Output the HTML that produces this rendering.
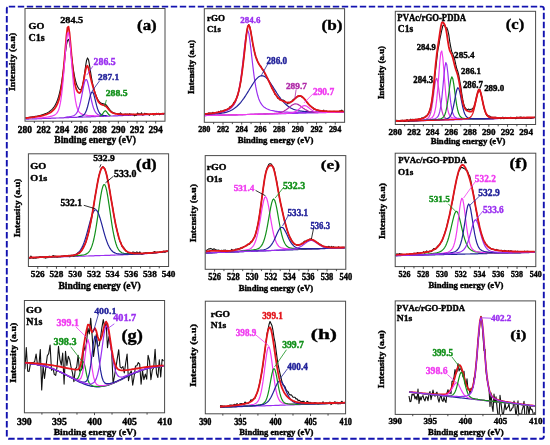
<!DOCTYPE html>
<html><head><meta charset="utf-8"><style>
html,body{margin:0;padding:0;background:#fff;width:550px;height:445px;overflow:hidden}
svg{display:block;filter:blur(0.4px)}
text{font-family:"Liberation Serif",serif;font-weight:bold;font-size:10px;font-kerning:none}
</style></head><body>
<svg width="550" height="445" viewBox="0 0 550 445">
<rect width="550" height="445" fill="#fff"/>
<clipPath id="cpa"><rect x="25" y="8.5" width="140" height="112.7"/></clipPath>
<g clip-path="url(#cpa)">
<polyline points="25.5,119.2 26.5,119.1 27.5,119.1 28.5,119.1 29.5,119.0 30.5,119.0 31.5,119.0 32.5,118.9 33.5,118.9 34.5,118.8 35.5,118.8 36.5,118.8 37.5,118.7 38.5,118.7 39.5,118.7 40.5,118.6 41.5,118.6 42.5,118.5 43.5,118.5 44.5,118.5 45.5,118.4 46.5,118.4 47.5,118.4 48.5,118.3 49.5,118.3 50.5,118.3 51.5,118.2 52.5,118.2 53.5,118.1 54.5,118.1 55.5,118.1 56.5,118.0 57.5,118.0 58.5,118.0 59.5,117.9 60.5,117.9 61.5,117.8 62.5,117.8 63.5,117.8 64.5,117.7 65.5,117.7 66.5,117.7 67.5,117.6 68.5,117.6 69.5,117.5 70.5,117.5 71.5,117.5 72.5,117.4 73.5,117.4 74.5,117.4 75.5,117.3 76.5,117.3 77.5,117.2 78.5,117.2 79.5,117.2 80.5,117.1 81.5,117.1 82.5,117.1 83.5,117.0 84.5,117.0 85.5,117.0 86.5,116.9 87.5,116.9 88.5,116.8 89.5,116.8 90.5,116.8 91.5,116.7 92.5,116.7 93.5,116.7 94.5,116.6 95.5,116.6 96.5,116.5 97.5,116.5 98.5,116.5 99.5,116.4 100.5,116.4 101.5,116.4 102.5,116.3 103.5,116.3 104.5,116.2 105.5,116.2 106.5,116.2 107.5,116.1 108.5,116.1 109.5,116.1 110.5,116.0 111.5,116.0 112.5,116.0 113.5,115.9 114.5,115.9 115.5,115.8 116.5,115.8 117.5,115.8 118.5,115.7 119.5,115.7 120.5,115.7 121.5,115.6 122.5,115.6 123.5,115.5 124.5,115.5 125.5,115.5 126.5,115.4 127.5,115.4 128.5,115.4 129.5,115.3 130.5,115.3 131.5,115.2 132.5,115.2 133.5,115.2 134.5,115.1 135.5,115.1 136.5,115.1 137.5,115.0 138.5,115.0 139.5,114.9 140.5,114.9 141.5,114.9 142.5,114.8 143.5,114.8 144.5,114.8 145.5,114.7 146.5,114.7 147.5,114.7 148.5,114.6 149.5,114.6 150.5,114.5 151.5,114.5 152.5,114.5 153.5,114.4 154.5,114.4 155.5,114.4 156.5,114.3 157.5,114.3 158.5,114.2 159.5,114.2 160.5,114.2 161.5,114.1 162.5,114.1 163.5,114.1 164.5,114.0" fill="none" stroke="#8a2be2" stroke-width="1.2" stroke-linejoin="round" />
<polyline points="25.5,117.7 26.5,117.6 27.5,117.5 28.5,117.4 29.5,117.2 30.5,117.1 31.5,117.0 32.5,116.8 33.5,116.7 34.5,116.5 35.5,116.3 36.5,116.2 37.5,116.0 38.5,115.8 39.5,115.5 40.5,115.3 41.5,115.0 42.5,114.7 43.5,114.4 44.5,114.0 45.5,113.6 46.5,113.2 47.5,112.7 48.5,112.1 49.5,111.4 50.5,110.7 51.5,109.8 52.5,108.8 53.5,107.7 54.5,106.3 55.5,104.6 56.5,102.5 57.5,100.0 58.5,96.9 59.5,93.1 60.5,88.5 61.5,83.0 62.5,76.4 63.5,68.9 64.5,60.6 65.5,52.3 66.5,45.0 67.5,40.3 68.5,39.3 69.5,42.3 70.5,48.2 71.5,55.8 72.5,63.5 73.5,70.4 74.5,76.2 75.5,80.7 76.5,84.1 77.5,86.5 78.5,88.3 79.5,89.5 80.5,89.8 81.5,88.6 82.5,85.6 83.5,80.6 84.5,74.0 85.5,66.7 86.5,60.6 87.5,57.9 88.5,59.7 89.5,65.0 90.5,71.6 91.5,77.8 92.5,83.1 93.5,87.3 94.5,90.9 95.5,94.1 96.5,96.8 97.5,99.0 98.5,100.7 99.5,101.9 100.5,102.7 101.5,103.3 102.5,103.6 103.5,103.9 104.5,104.1 105.5,104.5 106.5,105.3 107.5,106.6 108.5,108.0 109.5,109.4 110.5,110.6 111.5,111.5 112.5,112.2 113.5,112.8 114.5,113.1 115.5,113.4 116.5,113.5 117.5,113.7 118.5,113.8 119.5,113.9 120.5,112.9 121.5,114.0 122.5,114.8 123.5,114.6 124.5,114.3 125.5,114.0 126.5,114.4 127.5,114.1 128.5,114.7 129.5,113.7 130.5,114.3 131.5,114.2 132.5,114.6 133.5,114.4 134.5,115.8 135.5,115.1 136.5,115.1 137.5,113.0 138.5,114.0 139.5,113.8 140.5,114.5 141.5,112.8 142.5,114.9 143.5,114.8 144.5,113.3 145.5,113.5 146.5,113.6 147.5,114.1 148.5,114.4 149.5,115.2 150.5,113.9 151.5,114.4 152.5,114.0 153.5,115.0 154.5,114.4 155.5,114.7 156.5,113.2 157.5,113.7 158.5,113.3 159.5,114.7 160.5,114.1 161.5,113.5 162.5,113.4 163.5,114.0 164.5,113.2" fill="none" stroke="#111" stroke-width="1.1" stroke-linejoin="round" />
<polyline points="25.5,118.0 26.5,118.0 27.5,117.9 28.5,117.8 29.5,117.7 30.5,117.6 31.5,117.4 32.5,117.3 33.5,117.2 34.5,117.1 35.5,116.9 36.5,116.8 37.5,116.6 38.5,116.4 39.5,116.2 40.5,116.0 41.5,115.8 42.5,115.6 43.5,115.3 44.5,115.0 45.5,114.7 46.5,114.3 47.5,113.9 48.5,113.5 49.5,113.0 50.5,112.4 51.5,111.7 52.5,110.9 53.5,109.9 54.5,108.8 55.5,107.4 56.5,105.7 57.5,103.6 58.5,100.9 59.5,97.4 60.5,92.9 61.5,87.1 62.5,79.6 63.5,70.4 64.5,59.2 65.5,47.0 66.5,35.4 67.5,27.7 68.5,26.7 69.5,32.9 70.5,43.6 71.5,55.4 72.5,66.2 73.5,75.0 74.5,81.7 75.5,86.5 76.5,89.7 77.5,91.7 78.5,92.7 79.5,93.0 80.5,92.2 81.5,90.2 82.5,86.6 83.5,81.7 84.5,75.9 85.5,70.3 86.5,66.5 87.5,65.8 88.5,68.2 89.5,72.5 90.5,77.2 91.5,81.4 92.5,85.1 93.5,88.5 94.5,91.7 95.5,94.9 96.5,97.7 97.5,100.0 98.5,101.8 99.5,103.0 100.5,103.9 101.5,104.5 102.5,104.9 103.5,105.2 104.5,105.5 105.5,106.0 106.5,106.8 107.5,107.9 108.5,109.2 109.5,110.4 110.5,111.4 111.5,112.2 112.5,112.8 113.5,113.2 114.5,113.5 115.5,113.8 116.5,113.9 117.5,114.0 118.5,114.1 119.5,114.2 120.5,114.2 121.5,114.3 122.5,114.3 123.5,114.3 124.5,114.4 125.5,114.4 126.5,114.4 127.5,114.4 128.5,114.4 129.5,114.4 130.5,114.4 131.5,114.4 132.5,114.4 133.5,114.4 134.5,114.4 135.5,114.4 136.5,114.4 137.5,114.4 138.5,114.3 139.5,114.3 140.5,114.3 141.5,114.3 142.5,114.3 143.5,114.3 144.5,114.2 145.5,114.2 146.5,114.2 147.5,114.2 148.5,114.1 149.5,114.1 150.5,114.1 151.5,114.1 152.5,114.0 153.5,114.0 154.5,114.0 155.5,114.0 156.5,113.9 157.5,113.9 158.5,113.9 159.5,113.9 160.5,113.8 161.5,113.8 162.5,113.8 163.5,113.7 164.5,113.7" fill="none" stroke="#e3141b" stroke-width="1.8" stroke-linejoin="round" />
<polyline points="36.5,118.2 37.5,118.1 38.5,118.0 39.5,117.9 40.5,117.8 41.5,117.8 42.5,117.7 43.5,117.5 44.5,117.4 45.5,117.3 46.5,117.2 47.5,117.0 48.5,116.8 49.5,116.6 50.5,116.4 51.5,116.2 52.5,115.9 53.5,115.5 54.5,115.1 55.5,114.4 56.5,113.6 57.5,112.2 58.5,110.2 59.5,107.1 60.5,102.4 61.5,95.8 62.5,87.1 63.5,76.2 64.5,63.8 65.5,51.2 66.5,40.2 67.5,33.3 68.5,32.6 69.5,38.3 70.5,48.6 71.5,61.0 72.5,73.5 73.5,84.7 74.5,93.8 75.5,100.7 76.5,105.6 77.5,109.0 78.5,111.1 79.5,112.5 80.5,113.4 81.5,113.9 82.5,114.4 83.5,114.7 84.5,114.9 85.5,115.1 86.5,115.2 87.5,115.4 88.5,115.5 89.5,115.5 90.5,115.6 91.5,115.7 92.5,115.7 93.5,115.7 94.5,115.8 95.5,115.8 96.5,115.8 97.5,115.8 98.5,115.8 99.5,115.8 100.5,115.8" fill="none" stroke="#f03cf0" stroke-width="1.2" stroke-linejoin="round" />
<polyline points="65.5,117.1 66.5,117.0 67.5,116.9 68.5,116.8 69.5,116.7 70.5,116.5 71.5,116.3 72.5,116.0 73.5,115.7 74.5,115.2 75.5,114.4 76.5,113.3 77.5,111.6 78.5,109.2 79.5,105.9 80.5,101.9 81.5,97.1 82.5,91.8 83.5,86.7 84.5,82.4 85.5,79.8 86.5,79.5 87.5,81.6 88.5,85.6 89.5,90.5 90.5,95.7 91.5,100.5 92.5,104.7 93.5,108.0 94.5,110.5 95.5,112.3 96.5,113.4 97.5,114.2 98.5,114.7 99.5,115.0 100.5,115.2 101.5,115.3 102.5,115.4 103.5,115.5 104.5,115.5 105.5,115.5 106.5,115.6 107.5,115.6" fill="none" stroke="#9b30f0" stroke-width="1.2" stroke-linejoin="round" />
<polyline points="78.5,116.6 79.5,116.5 80.5,116.3 81.5,116.1 82.5,115.7 83.5,115.1 84.5,114.1 85.5,112.5 86.5,110.2 87.5,107.0 88.5,103.1 89.5,98.9 90.5,95.0 91.5,92.3 92.5,91.8 93.5,93.6 94.5,97.1 95.5,101.2 96.5,105.2 97.5,108.6 98.5,111.2 99.5,113.0 100.5,114.1 101.5,114.8 102.5,115.2 103.5,115.4 104.5,115.5 105.5,115.6 106.5,115.6" fill="none" stroke="#22229a" stroke-width="1.2" stroke-linejoin="round" />
<polyline points="99.5,116.1 100.5,115.7 101.5,115.1 102.5,114.0 103.5,112.5 104.5,111.2 105.5,110.7 106.5,111.6 107.5,113.0 108.5,114.2 109.5,115.1 110.5,115.5" fill="none" stroke="#12901a" stroke-width="1.2" stroke-linejoin="round" />
</g>
<rect x="25" y="8.5" width="140" height="112.7" fill="none" stroke="#4a4a4a" stroke-width="1"/>
<line x1="34.33" y1="121.2" x2="34.33" y2="123.0" stroke="#333" stroke-width="0.9"/>
<line x1="43.67" y1="121.2" x2="43.67" y2="123.5" stroke="#333" stroke-width="0.9"/>
<line x1="53.00" y1="121.2" x2="53.00" y2="123.0" stroke="#333" stroke-width="0.9"/>
<line x1="62.33" y1="121.2" x2="62.33" y2="123.5" stroke="#333" stroke-width="0.9"/>
<line x1="71.67" y1="121.2" x2="71.67" y2="123.0" stroke="#333" stroke-width="0.9"/>
<line x1="81.00" y1="121.2" x2="81.00" y2="123.5" stroke="#333" stroke-width="0.9"/>
<line x1="90.33" y1="121.2" x2="90.33" y2="123.0" stroke="#333" stroke-width="0.9"/>
<line x1="99.67" y1="121.2" x2="99.67" y2="123.5" stroke="#333" stroke-width="0.9"/>
<line x1="109.00" y1="121.2" x2="109.00" y2="123.0" stroke="#333" stroke-width="0.9"/>
<line x1="118.33" y1="121.2" x2="118.33" y2="123.5" stroke="#333" stroke-width="0.9"/>
<line x1="127.67" y1="121.2" x2="127.67" y2="123.0" stroke="#333" stroke-width="0.9"/>
<line x1="137.00" y1="121.2" x2="137.00" y2="123.5" stroke="#333" stroke-width="0.9"/>
<line x1="146.33" y1="121.2" x2="146.33" y2="123.0" stroke="#333" stroke-width="0.9"/>
<line x1="155.67" y1="121.2" x2="155.67" y2="123.5" stroke="#333" stroke-width="0.9"/>
<text transform="matrix(0.94842 0 0 0.94842 17.87 132.51)" fill="#000" stroke="#000" stroke-width="0.4218">280</text>
<text transform="matrix(0.94842 0 0 0.94842 36.56 132.51)" fill="#000" stroke="#000" stroke-width="0.4218">282</text>
<text transform="matrix(0.94842 0 0 0.94842 55.11 132.51)" fill="#000" stroke="#000" stroke-width="0.4218">284</text>
<text transform="matrix(0.94842 0 0 0.94842 73.83 132.51)" fill="#000" stroke="#000" stroke-width="0.4218">286</text>
<text transform="matrix(0.94842 0 0 0.94842 92.51 132.51)" fill="#000" stroke="#000" stroke-width="0.4218">288</text>
<text transform="matrix(0.94842 0 0 0.94842 111.20 132.51)" fill="#000" stroke="#000" stroke-width="0.4218">290</text>
<text transform="matrix(0.95256 0 0 0.95256 129.86 132.51)" fill="#000" stroke="#000" stroke-width="0.4199">292</text>
<text transform="matrix(0.95256 0 0 0.95256 148.41 132.51)" fill="#000" stroke="#000" stroke-width="0.4199">294</text>
<text transform="matrix(1.01508 0 0 0.87814 28.50 29.21)" fill="#000" stroke="#000" stroke-width="0.4226">GO</text>
<text transform="matrix(1.00775 0 0 0.98233 28.51 40.90)" fill="#000" stroke="#000" stroke-width="0.4020">C1s</text>
<text transform="matrix(1.02699 0 0 0.88339 60.17 22.77)" fill="#000" stroke="#000" stroke-width="0.4188">284.5</text>
<text transform="matrix(1.68812 0 0 1.54400 137.06 29.71)" fill="#000" stroke="#000" stroke-width="0.2475">(a)</text>
<text transform="matrix(0.98094 0 0 0.94229 93.59 64.67)" fill="#9b30f0" stroke="#9b30f0" stroke-width="0.4160">286.5</text>
<text transform="matrix(0.94145 0 0 0.91284 98.00 79.67)" fill="#22229a" stroke="#22229a" stroke-width="0.4314">287.1</text>
<text transform="matrix(0.97173 0 0 0.92756 105.69 96.17)" fill="#12901a" stroke="#12901a" stroke-width="0.4212">288.5</text>
<text transform="matrix(0.94734 0 0 0.92942 54.34 143.45)" fill="#000" stroke="#000" stroke-width="0.4263">Binding energy (eV)</text>
<text transform="matrix(0 -0.97250 0.78050 0 14.52 91.03)" fill="#000" stroke="#000" stroke-width="0.4564">Intensity (a.u)</text>
<line x1="92.9" y1="66.1" x2="86.8" y2="75.1" stroke="#9b30f0" stroke-width="0.8"/>
<line x1="99.6" y1="80.8" x2="92.2" y2="90.9" stroke="#22229a" stroke-width="0.8"/>
<line x1="106.4" y1="99.9" x2="104.6" y2="106.6" stroke="#12901a" stroke-width="0.8"/>
<clipPath id="cpb"><rect x="204.3" y="8.7" width="140.3" height="113.6"/></clipPath>
<g clip-path="url(#cpb)">
<polyline points="204.8,115.6 205.8,115.6 206.8,115.5 207.8,115.5 208.8,115.5 209.8,115.5 210.8,115.4 211.8,115.4 212.8,115.4 213.8,115.4 214.8,115.3 215.8,115.3 216.8,115.3 217.8,115.3 218.8,115.2 219.8,115.2 220.8,115.2 221.8,115.2 222.8,115.1 223.8,115.1 224.8,115.1 225.8,115.1 226.8,115.0 227.8,115.0 228.8,115.0 229.8,115.0 230.8,114.9 231.8,114.9 232.8,114.9 233.8,114.9 234.8,114.8 235.8,114.8 236.8,114.8 237.8,114.8 238.8,114.7 239.8,114.7 240.8,114.7 241.8,114.7 242.8,114.6 243.8,114.6 244.8,114.6 245.8,114.6 246.8,114.5 247.8,114.5 248.8,114.5 249.8,114.5 250.8,114.4 251.8,114.4 252.8,114.4 253.8,114.4 254.8,114.3 255.8,114.3 256.8,114.3 257.8,114.3 258.8,114.2 259.8,114.2 260.8,114.2 261.8,114.2 262.8,114.1 263.8,114.1 264.8,114.1 265.8,114.1 266.8,114.0 267.8,114.0 268.8,114.0 269.8,114.0 270.8,113.9 271.8,113.9 272.8,113.9 273.8,113.9 274.8,113.8 275.8,113.8 276.8,113.8 277.8,113.8 278.8,113.7 279.8,113.7 280.8,113.7 281.8,113.7 282.8,113.6 283.8,113.6 284.8,113.6 285.8,113.6 286.8,113.5 287.8,113.5 288.8,113.5 289.8,113.5 290.8,113.4 291.8,113.4 292.8,113.4 293.8,113.4 294.8,113.3 295.8,113.3 296.8,113.3 297.8,113.3 298.8,113.2 299.8,113.2 300.8,113.2 301.8,113.2 302.8,113.1 303.8,113.1 304.8,113.1 305.8,113.1 306.8,113.0 307.8,113.0 308.8,113.0 309.8,113.0 310.8,112.9 311.8,112.9 312.8,112.9 313.8,112.9 314.8,112.8 315.8,112.8 316.8,112.8 317.8,112.8 318.8,112.7 319.8,112.7 320.8,112.7 321.8,112.7 322.8,112.6 323.8,112.6 324.8,112.6 325.8,112.6 326.8,112.5 327.8,112.5 328.8,112.5 329.8,112.5 330.8,112.4 331.8,112.4 332.8,112.4 333.8,112.4 334.8,112.3 335.8,112.3 336.8,112.3 337.8,112.3 338.8,112.2 339.8,112.2 340.8,112.2 341.8,112.2 342.8,112.1 343.8,112.1" fill="none" stroke="#9b30f0" stroke-width="1.2" stroke-linejoin="round" />
<polyline points="204.8,113.7 205.8,113.8 206.8,114.7 207.8,114.0 208.8,112.8 209.8,113.5 210.8,113.1 211.8,113.3 212.8,112.3 213.8,113.1 214.8,113.0 215.8,113.5 216.8,112.7 217.8,112.6 218.8,111.4 219.8,113.0 220.8,110.7 221.8,112.0 222.8,110.9 223.8,110.3 224.8,110.1 225.8,109.7 226.8,109.8 227.8,109.0 228.8,109.2 229.8,106.8 230.8,106.9 231.8,105.6 232.8,105.3 233.8,102.5 234.8,101.8 235.8,100.1 236.8,96.8 237.8,95.1 238.8,91.0 239.8,86.9 240.8,81.4 241.8,73.9 242.8,66.3 243.8,58.0 244.8,49.2 245.8,40.0 246.8,31.3 247.8,26.2 248.8,24.6 249.8,26.9 250.8,31.7 251.8,37.5 252.8,44.5 253.8,48.5 254.8,53.0 255.8,57.0 256.8,59.1 257.8,61.7 258.8,63.7 259.8,65.7 260.8,66.1 261.8,68.8 262.8,69.5 263.8,71.4 264.8,73.4 265.8,75.2 266.8,77.4 267.8,79.0 268.8,81.1 269.8,83.4 270.8,84.9 271.8,88.1 272.8,89.1 273.8,90.8 274.8,94.2 275.8,94.8 276.8,95.7 277.8,98.4 278.8,98.3 279.8,99.9 280.8,99.5 281.8,100.4 282.8,100.1 283.8,100.4 284.8,101.2 285.8,102.1 286.8,102.8 287.8,103.9 288.8,102.2 289.8,103.0 290.8,101.8 291.8,101.4 292.8,100.0 293.8,99.1 294.8,98.5 295.8,97.4 296.8,97.1 297.8,96.0 298.8,96.6 299.8,95.9 300.8,96.0 301.8,97.0 302.8,97.5 303.8,98.2 304.8,99.4 305.8,100.6 306.8,102.4 307.8,103.5 308.8,104.5 309.8,105.8 310.8,106.1 311.8,107.4 312.8,107.2 313.8,109.3 314.8,109.2 315.8,109.7 316.8,110.2 317.8,110.2 318.8,110.3 319.8,111.2 320.8,110.9 321.8,110.5 322.8,111.2 323.8,110.2 324.8,112.0 325.8,111.1 326.8,111.3 327.8,112.4 328.8,112.4 329.8,111.4 330.8,111.7 331.8,111.9 332.8,112.2 333.8,111.3 334.8,111.5 335.8,112.0 336.8,111.6 337.8,111.8 338.8,111.7 339.8,110.9 340.8,111.0 341.8,110.1 342.8,111.3 343.8,112.1" fill="none" stroke="#111" stroke-width="1.1" stroke-linejoin="round" />
<polyline points="204.8,114.5 205.8,114.4 206.8,114.3 207.8,114.2 208.8,114.1 209.8,114.0 210.8,113.9 211.8,113.8 212.8,113.7 213.8,113.6 214.8,113.4 215.8,113.3 216.8,113.1 217.8,113.0 218.8,112.8 219.8,112.6 220.8,112.4 221.8,112.1 222.8,111.9 223.8,111.6 224.8,111.3 225.8,110.9 226.8,110.5 227.8,110.1 228.8,109.5 229.8,108.9 230.8,108.2 231.8,107.3 232.8,106.2 233.8,104.9 234.8,103.2 235.8,101.0 236.8,98.3 237.8,94.8 238.8,90.4 239.8,85.0 240.8,78.6 241.8,71.1 242.8,62.6 243.8,53.6 244.8,44.6 245.8,36.9 246.8,31.9 247.8,30.6 248.8,33.4 249.8,39.7 250.8,48.0 251.8,57.0 252.8,65.8 253.8,73.9 254.8,81.0 255.8,86.9 256.8,91.8 257.8,95.8 258.8,98.9 259.8,101.3 260.8,103.2 261.8,104.7 262.8,105.9 263.8,106.9 264.8,107.6 265.8,108.3 266.8,108.8 267.8,109.2 268.8,109.6 269.8,110.0 270.8,110.3 271.8,110.5 272.8,110.7 273.8,110.9 274.8,111.1 275.8,111.3 276.8,111.4 277.8,111.5 278.8,111.6 279.8,111.7 280.8,111.8 281.8,111.9 282.8,112.0 283.8,112.0 284.8,112.1 285.8,112.2 286.8,112.2 287.8,112.2 288.8,112.3 289.8,112.3 290.8,112.3 291.8,112.4 292.8,112.4 293.8,112.4 294.8,112.4 295.8,112.4 296.8,112.4 297.8,112.4 298.8,112.4 299.8,112.5 300.8,112.5 301.8,112.5 302.8,112.5 303.8,112.5 304.8,112.5 305.8,112.4 306.8,112.4 307.8,112.4 308.8,112.4 309.8,112.4 310.8,112.4 311.8,112.4 312.8,112.4 313.8,112.4 314.8,112.4 315.8,112.4 316.8,112.4 317.8,112.3 318.8,112.3 319.8,112.3 320.8,112.3 321.8,112.3 322.8,112.3 323.8,112.3 324.8,112.2 325.8,112.2 326.8,112.2 327.8,112.2 328.8,112.2 329.8,112.2 330.8,112.1 331.8,112.1 332.8,112.1 333.8,112.1 334.8,112.1 335.8,112.0 336.8,112.0 337.8,112.0 338.8,112.0 339.8,112.0 340.8,112.0 341.8,111.9 342.8,111.9 343.8,111.9" fill="none" stroke="#9b30f0" stroke-width="1.2" stroke-linejoin="round" />
<polyline points="204.8,114.7 205.8,114.7 206.8,114.6 207.8,114.6 208.8,114.5 209.8,114.4 210.8,114.4 211.8,114.3 212.8,114.2 213.8,114.2 214.8,114.1 215.8,114.0 216.8,113.9 217.8,113.8 218.8,113.7 219.8,113.5 220.8,113.4 221.8,113.2 222.8,113.0 223.8,112.8 224.8,112.6 225.8,112.4 226.8,112.1 227.8,111.7 228.8,111.4 229.8,111.0 230.8,110.5 231.8,110.0 232.8,109.4 233.8,108.8 234.8,108.1 235.8,107.3 236.8,106.5 237.8,105.5 238.8,104.5 239.8,103.5 240.8,102.3 241.8,101.0 242.8,99.7 243.8,98.3 244.8,96.8 245.8,95.3 246.8,93.7 247.8,92.1 248.8,90.5 249.8,88.8 250.8,87.2 251.8,85.6 252.8,84.0 253.8,82.5 254.8,81.0 255.8,79.7 256.8,78.6 257.8,77.6 258.8,76.8 259.8,76.2 260.8,75.8 261.8,75.7 262.8,75.8 263.8,76.1 264.8,76.6 265.8,77.4 266.8,78.3 267.8,79.4 268.8,80.7 269.8,82.1 270.8,83.5 271.8,85.1 272.8,86.6 273.8,88.2 274.8,89.8 275.8,91.4 276.8,93.0 277.8,94.5 278.8,96.0 279.8,97.4 280.8,98.8 281.8,100.0 282.8,101.2 283.8,102.4 284.8,103.4 285.8,104.3 286.8,105.2 287.8,106.0 288.8,106.7 289.8,107.4 290.8,108.0 291.8,108.5 292.8,109.0 293.8,109.4 294.8,109.7 295.8,110.0 296.8,110.3 297.8,110.6 298.8,110.8 299.8,110.9 300.8,111.1 301.8,111.2 302.8,111.3 303.8,111.4 304.8,111.5 305.8,111.6 306.8,111.6 307.8,111.7 308.8,111.7 309.8,111.8 310.8,111.8 311.8,111.8 312.8,111.8 313.8,111.9 314.8,111.9 315.8,111.9 316.8,111.9 317.8,111.9 318.8,111.9 319.8,111.9 320.8,111.9 321.8,111.9 322.8,111.9 323.8,111.9 324.8,111.9 325.8,111.9 326.8,111.9 327.8,111.9 328.8,111.9 329.8,111.9 330.8,111.9 331.8,111.8 332.8,111.8 333.8,111.8 334.8,111.8 335.8,111.8 336.8,111.8 337.8,111.8 338.8,111.8 339.8,111.8 340.8,111.7 341.8,111.7 342.8,111.7 343.8,111.7" fill="none" stroke="#22229a" stroke-width="1.2" stroke-linejoin="round" />
<polyline points="204.8,115.6 205.8,115.5 206.8,115.5 207.8,115.5 208.8,115.5 209.8,115.4 210.8,115.4 211.8,115.4 212.8,115.4 213.8,115.3 214.8,115.3 215.8,115.3 216.8,115.3 217.8,115.2 218.8,115.2 219.8,115.2 220.8,115.2 221.8,115.1 222.8,115.1 223.8,115.1 224.8,115.1 225.8,115.0 226.8,115.0 227.8,115.0 228.8,114.9 229.8,114.9 230.8,114.9 231.8,114.9 232.8,114.8 233.8,114.8 234.8,114.8 235.8,114.8 236.8,114.7 237.8,114.7 238.8,114.7 239.8,114.7 240.8,114.6 241.8,114.6 242.8,114.6 243.8,114.5 244.8,114.5 245.8,114.5 246.8,114.5 247.8,114.4 248.8,114.4 249.8,114.4 250.8,114.4 251.8,114.3 252.8,114.3 253.8,114.3 254.8,114.2 255.8,114.2 256.8,114.2 257.8,114.1 258.8,114.1 259.8,114.1 260.8,114.0 261.8,114.0 262.8,114.0 263.8,113.9 264.8,113.9 265.8,113.9 266.8,113.8 267.8,113.8 268.8,113.8 269.8,113.7 270.8,113.7 271.8,113.6 272.8,113.6 273.8,113.5 274.8,113.4 275.8,113.3 276.8,113.2 277.8,113.1 278.8,112.9 279.8,112.7 280.8,112.4 281.8,112.1 282.8,111.7 283.8,111.2 284.8,110.6 285.8,110.0 286.8,109.3 287.8,108.5 288.8,107.7 289.8,106.9 290.8,106.1 291.8,105.3 292.8,104.7 293.8,104.2 294.8,103.9 295.8,103.8 296.8,104.0 297.8,104.4 298.8,104.9 299.8,105.6 300.8,106.3 301.8,107.1 302.8,107.9 303.8,108.6 304.8,109.3 305.8,109.9 306.8,110.4 307.8,110.9 308.8,111.3 309.8,111.6 310.8,111.8 311.8,112.0 312.8,112.1 313.8,112.2 314.8,112.3 315.8,112.4 316.8,112.4 317.8,112.4 318.8,112.4 319.8,112.4 320.8,112.4 321.8,112.4 322.8,112.4 323.8,112.4 324.8,112.4 325.8,112.4 326.8,112.4 327.8,112.4 328.8,112.3 329.8,112.3 330.8,112.3 331.8,112.3 332.8,112.3 333.8,112.3 334.8,112.2 335.8,112.2 336.8,112.2 337.8,112.2 338.8,112.2 339.8,112.1 340.8,112.1 341.8,112.1 342.8,112.1 343.8,112.0" fill="none" stroke="#b02aa8" stroke-width="1.2" stroke-linejoin="round" />
<polyline points="204.8,115.6 205.8,115.6 206.8,115.5 207.8,115.5 208.8,115.5 209.8,115.5 210.8,115.4 211.8,115.4 212.8,115.4 213.8,115.4 214.8,115.3 215.8,115.3 216.8,115.3 217.8,115.3 218.8,115.2 219.8,115.2 220.8,115.2 221.8,115.2 222.8,115.1 223.8,115.1 224.8,115.1 225.8,115.1 226.8,115.0 227.8,115.0 228.8,115.0 229.8,114.9 230.8,114.9 231.8,114.9 232.8,114.9 233.8,114.8 234.8,114.8 235.8,114.8 236.8,114.8 237.8,114.7 238.8,114.7 239.8,114.7 240.8,114.7 241.8,114.6 242.8,114.6 243.8,114.6 244.8,114.6 245.8,114.5 246.8,114.5 247.8,114.5 248.8,114.5 249.8,114.4 250.8,114.4 251.8,114.4 252.8,114.4 253.8,114.3 254.8,114.3 255.8,114.3 256.8,114.3 257.8,114.2 258.8,114.2 259.8,114.2 260.8,114.1 261.8,114.1 262.8,114.1 263.8,114.1 264.8,114.0 265.8,114.0 266.8,114.0 267.8,114.0 268.8,113.9 269.8,113.9 270.8,113.9 271.8,113.8 272.8,113.8 273.8,113.8 274.8,113.8 275.8,113.7 276.8,113.7 277.8,113.7 278.8,113.6 279.8,113.6 280.8,113.6 281.8,113.5 282.8,113.5 283.8,113.4 284.8,113.4 285.8,113.4 286.8,113.3 287.8,113.2 288.8,113.2 289.8,113.1 290.8,112.9 291.8,112.8 292.8,112.5 293.8,112.2 294.8,111.9 295.8,111.4 296.8,110.8 297.8,110.1 298.8,109.3 299.8,108.4 300.8,107.5 301.8,106.7 302.8,106.1 303.8,105.7 304.8,105.6 305.8,105.8 306.8,106.3 307.8,107.0 308.8,107.8 309.8,108.6 310.8,109.4 311.8,110.1 312.8,110.7 313.8,111.2 314.8,111.6 315.8,111.9 316.8,112.1 317.8,112.2 318.8,112.3 319.8,112.4 320.8,112.4 321.8,112.4 322.8,112.4 323.8,112.4 324.8,112.4 325.8,112.4 326.8,112.4 327.8,112.4 328.8,112.4 329.8,112.3 330.8,112.3 331.8,112.3 332.8,112.3 333.8,112.3 334.8,112.3 335.8,112.2 336.8,112.2 337.8,112.2 338.8,112.2 339.8,112.2 340.8,112.1 341.8,112.1 342.8,112.1 343.8,112.1" fill="none" stroke="#f03cf0" stroke-width="1.2" stroke-linejoin="round" />
<polyline points="204.8,114.0 205.8,113.9 206.8,113.8 207.8,113.7 208.8,113.6 209.8,113.5 210.8,113.4 211.8,113.3 212.8,113.1 213.8,113.0 214.8,112.8 215.8,112.7 216.8,112.5 217.8,112.3 218.8,112.1 219.8,111.9 220.8,111.7 221.8,111.4 222.8,111.1 223.8,110.8 224.8,110.4 225.8,110.0 226.8,109.6 227.8,109.0 228.8,108.4 229.8,107.8 230.8,107.0 231.8,106.0 232.8,104.9 233.8,103.6 234.8,102.0 235.8,100.0 236.8,97.6 237.8,94.6 238.8,90.9 239.8,86.4 240.8,80.9 241.8,74.4 242.8,66.7 243.8,58.1 244.8,48.8 245.8,39.6 246.8,31.7 247.8,26.5 248.8,25.0 249.8,27.2 250.8,31.8 251.8,37.6 252.8,43.4 253.8,48.7 254.8,53.2 255.8,56.8 256.8,59.6 257.8,61.9 258.8,63.7 259.8,65.3 260.8,66.7 261.8,68.2 262.8,69.7 263.8,71.3 264.8,73.0 265.8,74.9 266.8,76.9 267.8,78.9 268.8,81.1 269.8,83.2 270.8,85.4 271.8,87.5 272.8,89.5 273.8,91.4 274.8,93.2 275.8,94.8 276.8,96.3 277.8,97.5 278.8,98.5 279.8,99.3 280.8,100.0 281.8,100.5 282.8,100.9 283.8,101.3 284.8,101.7 285.8,102.1 286.8,102.4 287.8,102.7 288.8,102.7 289.8,102.5 290.8,102.1 291.8,101.5 292.8,100.7 293.8,99.9 294.8,98.9 295.8,98.0 296.8,97.1 297.8,96.4 298.8,95.9 299.8,95.8 300.8,96.0 301.8,96.5 302.8,97.3 303.8,98.3 304.8,99.4 305.8,100.6 306.8,101.9 307.8,103.1 308.8,104.3 309.8,105.4 310.8,106.3 311.8,107.2 312.8,107.9 313.8,108.6 314.8,109.1 315.8,109.6 316.8,109.9 317.8,110.2 318.8,110.5 319.8,110.6 320.8,110.8 321.8,110.9 322.8,111.0 323.8,111.1 324.8,111.1 325.8,111.2 326.8,111.2 327.8,111.3 328.8,111.3 329.8,111.3 330.8,111.4 331.8,111.4 332.8,111.4 333.8,111.4 334.8,111.4 335.8,111.4 336.8,111.4 337.8,111.4 338.8,111.4 339.8,111.4 340.8,111.4 341.8,111.4 342.8,111.4 343.8,111.4" fill="none" stroke="#e3141b" stroke-width="1.8" stroke-linejoin="round" />
</g>
<rect x="204.3" y="8.7" width="140.3" height="113.6" fill="none" stroke="#4a4a4a" stroke-width="1"/>
<line x1="213.65" y1="122.3" x2="213.65" y2="124.1" stroke="#333" stroke-width="0.9"/>
<line x1="223.01" y1="122.3" x2="223.01" y2="124.6" stroke="#333" stroke-width="0.9"/>
<line x1="232.36" y1="122.3" x2="232.36" y2="124.1" stroke="#333" stroke-width="0.9"/>
<line x1="241.71" y1="122.3" x2="241.71" y2="124.6" stroke="#333" stroke-width="0.9"/>
<line x1="251.07" y1="122.3" x2="251.07" y2="124.1" stroke="#333" stroke-width="0.9"/>
<line x1="260.42" y1="122.3" x2="260.42" y2="124.6" stroke="#333" stroke-width="0.9"/>
<line x1="269.77" y1="122.3" x2="269.77" y2="124.1" stroke="#333" stroke-width="0.9"/>
<line x1="279.13" y1="122.3" x2="279.13" y2="124.6" stroke="#333" stroke-width="0.9"/>
<line x1="288.48" y1="122.3" x2="288.48" y2="124.1" stroke="#333" stroke-width="0.9"/>
<line x1="297.83" y1="122.3" x2="297.83" y2="124.6" stroke="#333" stroke-width="0.9"/>
<line x1="307.19" y1="122.3" x2="307.19" y2="124.1" stroke="#333" stroke-width="0.9"/>
<line x1="316.54" y1="122.3" x2="316.54" y2="124.6" stroke="#333" stroke-width="0.9"/>
<line x1="325.89" y1="122.3" x2="325.89" y2="124.1" stroke="#333" stroke-width="0.9"/>
<line x1="335.25" y1="122.3" x2="335.25" y2="124.6" stroke="#333" stroke-width="0.9"/>
<text transform="matrix(0.81801 0 0 0.88915 198.15 132.21)" fill="#000" stroke="#000" stroke-width="0.4686">280</text>
<text transform="matrix(0.81801 0 0 0.88915 216.88 132.21)" fill="#000" stroke="#000" stroke-width="0.4686">282</text>
<text transform="matrix(0.81801 0 0 0.88915 235.48 132.21)" fill="#000" stroke="#000" stroke-width="0.4686">284</text>
<text transform="matrix(0.81801 0 0 0.88915 254.23 132.21)" fill="#000" stroke="#000" stroke-width="0.4686">286</text>
<text transform="matrix(0.81801 0 0 0.88915 272.96 132.21)" fill="#000" stroke="#000" stroke-width="0.4686">288</text>
<text transform="matrix(0.81801 0 0 0.88915 291.68 132.21)" fill="#000" stroke="#000" stroke-width="0.4686">290</text>
<text transform="matrix(0.82158 0 0 0.89302 310.38 132.21)" fill="#000" stroke="#000" stroke-width="0.4666">292</text>
<text transform="matrix(0.82158 0 0 0.89302 328.99 132.21)" fill="#000" stroke="#000" stroke-width="0.4666">294</text>
<text transform="matrix(0.89405 0 0 0.90791 207.06 21.31)" fill="#000" stroke="#000" stroke-width="0.4440">rGO</text>
<text transform="matrix(0.86471 0 0 0.86326 206.88 32.42)" fill="#000" stroke="#000" stroke-width="0.4630">C1s</text>
<text transform="matrix(0.89502 0 0 0.91284 240.32 22.87)" fill="#9b30f0" stroke="#9b30f0" stroke-width="0.4425">284.6</text>
<text transform="matrix(1.71916 0 0 1.49988 321.54 29.51)" fill="#000" stroke="#000" stroke-width="0.2485">(b)</text>
<text transform="matrix(0.91708 0 0 0.97173 266.51 64.16)" fill="#22229a" stroke="#22229a" stroke-width="0.4235">286.0</text>
<text transform="matrix(0.93424 0 0 0.92756 285.91 88.57)" fill="#b02aa8" stroke="#b02aa8" stroke-width="0.4297">289.7</text>
<text transform="matrix(0.94798 0 0 1.01590 312.90 95.46)" fill="#f03cf0" stroke="#f03cf0" stroke-width="0.4074">290.7</text>
<text transform="matrix(0.87950 0 0 0.87475 237.65 143.27)" fill="#000" stroke="#000" stroke-width="0.4560">Binding energy (eV)</text>
<text transform="matrix(0 -0.90328 0.82448 0 193.52 94.00)" fill="#000" stroke="#000" stroke-width="0.4630">Intensity (a.u)</text>
<line x1="268.3" y1="63" x2="261.6" y2="74.9" stroke="#22229a" stroke-width="0.8"/>
<line x1="296.1" y1="89.5" x2="294.8" y2="98.8" stroke="#b02aa8" stroke-width="0.8"/>
<line x1="313.3" y1="93.5" x2="304.1" y2="102.8" stroke="#f03cf0" stroke-width="0.8"/>
<clipPath id="cpc"><rect x="395.3" y="11.3" width="140.3" height="113.2"/></clipPath>
<g clip-path="url(#cpc)">
<polyline points="395.8,121.4 396.8,121.4 397.8,121.3 398.8,121.3 399.8,121.3 400.8,121.2 401.8,121.2 402.8,121.2 403.8,121.2 404.8,121.1 405.8,121.1 406.8,121.1 407.8,121.1 408.8,121.0 409.8,121.0 410.8,121.0 411.8,120.9 412.8,120.9 413.8,120.9 414.8,120.9 415.8,120.8 416.8,120.8 417.8,120.8 418.8,120.7 419.8,120.7 420.8,120.7 421.8,120.7 422.8,120.6 423.8,120.6 424.8,120.6 425.8,120.6 426.8,120.5 427.8,120.5 428.8,120.5 429.8,120.4 430.8,120.4 431.8,120.4 432.8,120.4 433.8,120.3 434.8,120.3 435.8,120.3 436.8,120.2 437.8,120.2 438.8,120.2 439.8,120.2 440.8,120.1 441.8,120.1 442.8,120.1 443.8,120.1 444.8,120.0 445.8,120.0 446.8,120.0 447.8,119.9 448.8,119.9 449.8,119.9 450.8,119.9 451.8,119.8 452.8,119.8 453.8,119.8 454.8,119.7 455.8,119.7 456.8,119.7 457.8,119.7 458.8,119.6 459.8,119.6 460.8,119.6 461.8,119.6 462.8,119.5 463.8,119.5 464.8,119.5 465.8,119.4 466.8,119.4 467.8,119.4 468.8,119.4 469.8,119.3 470.8,119.3 471.8,119.3 472.8,119.2 473.8,119.2 474.8,119.2 475.8,119.2 476.8,119.1 477.8,119.1 478.8,119.1 479.8,119.1 480.8,119.0 481.8,119.0 482.8,119.0 483.8,118.9 484.8,118.9 485.8,118.9 486.8,118.9 487.8,118.8 488.8,118.8 489.8,118.8 490.8,118.7 491.8,118.7 492.8,118.7 493.8,118.7 494.8,118.6 495.8,118.6 496.8,118.6 497.8,118.6 498.8,118.5 499.8,118.5 500.8,118.5 501.8,118.4 502.8,118.4 503.8,118.4 504.8,118.4 505.8,118.3 506.8,118.3 507.8,118.3 508.8,118.2 509.8,118.2 510.8,118.2 511.8,118.2 512.8,118.1 513.8,118.1 514.8,118.1 515.8,118.1 516.8,118.0 517.8,118.0 518.8,118.0 519.8,117.9 520.8,117.9 521.8,117.9 522.8,117.9 523.8,117.8 524.8,117.8 525.8,117.8 526.8,117.7 527.8,117.7 528.8,117.7 529.8,117.7 530.8,117.6 531.8,117.6 532.8,117.6 533.8,117.6 534.8,117.5" fill="none" stroke="#9b30f0" stroke-width="1.2" stroke-linejoin="round" />
<polyline points="395.8,121.3 396.8,121.3 397.8,121.2 398.8,121.2 399.8,121.2 400.8,121.1 401.8,121.1 402.8,121.1 403.8,121.0 404.8,121.0 405.8,120.9 406.8,120.9 407.8,120.9 408.8,120.8 409.8,120.8 410.8,120.7 411.8,120.7 412.8,120.6 413.8,120.6 414.8,120.5 415.8,120.5 416.8,120.4 417.8,120.3 418.8,120.3 419.8,120.2 420.8,120.1 421.8,120.0 422.8,119.9 423.8,119.7 424.8,119.5 425.8,119.3 426.8,118.9 427.8,118.3 428.8,117.3 429.8,115.4 430.8,112.3 431.8,107.5 432.8,100.9 433.8,93.0 434.8,85.1 435.8,79.6 436.8,78.5 437.8,82.4 438.8,89.6 439.8,97.6 440.8,104.8 441.8,110.3 442.8,114.0 443.8,116.3 444.8,117.5 445.8,118.2 446.8,118.6 447.8,118.8 448.8,119.0 449.8,119.1 450.8,119.1 451.8,119.2 452.8,119.2 453.8,119.3 454.8,119.3 455.8,119.3 456.8,119.3 457.8,119.3 458.8,119.3 459.8,119.3 460.8,119.3 461.8,119.3 462.8,119.3 463.8,119.3 464.8,119.3 465.8,119.3 466.8,119.2 467.8,119.2 468.8,119.2 469.8,119.2 470.8,119.2 471.8,119.2 472.8,119.1 473.8,119.1 474.8,119.1 475.8,119.1 476.8,119.0 477.8,119.0 478.8,119.0 479.8,119.0 480.8,118.9 481.8,118.9 482.8,118.9 483.8,118.9 484.8,118.8 485.8,118.8 486.8,118.8 487.8,118.8 488.8,118.7 489.8,118.7 490.8,118.7 491.8,118.7 492.8,118.6 493.8,118.6 494.8,118.6 495.8,118.6 496.8,118.5 497.8,118.5 498.8,118.5 499.8,118.5 500.8,118.4 501.8,118.4 502.8,118.4 503.8,118.4 504.8,118.3 505.8,118.3 506.8,118.3 507.8,118.2 508.8,118.2 509.8,118.2 510.8,118.2 511.8,118.1 512.8,118.1 513.8,118.1 514.8,118.1 515.8,118.0 516.8,118.0 517.8,118.0 518.8,117.9 519.8,117.9 520.8,117.9 521.8,117.9 522.8,117.8 523.8,117.8 524.8,117.8 525.8,117.8 526.8,117.7 527.8,117.7 528.8,117.7 529.8,117.6 530.8,117.6 531.8,117.6 532.8,117.6 533.8,117.5 534.8,117.5" fill="none" stroke="#c83cc8" stroke-width="1.2" stroke-linejoin="round" />
<polyline points="395.8,121.3 396.8,121.2 397.8,121.2 398.8,121.2 399.8,121.1 400.8,121.1 401.8,121.1 402.8,121.0 403.8,121.0 404.8,120.9 405.8,120.9 406.8,120.9 407.8,120.8 408.8,120.8 409.8,120.7 410.8,120.7 411.8,120.7 412.8,120.6 413.8,120.6 414.8,120.5 415.8,120.5 416.8,120.4 417.8,120.3 418.8,120.3 419.8,120.2 420.8,120.1 421.8,120.0 422.8,119.9 423.8,119.8 424.8,119.7 425.8,119.6 426.8,119.4 427.8,119.2 428.8,119.0 429.8,118.7 430.8,118.3 431.8,117.7 432.8,116.8 433.8,115.1 434.8,112.0 435.8,106.8 436.8,98.9 437.8,88.0 438.8,74.9 439.8,62.0 440.8,52.8 441.8,51.0 442.8,57.5 443.8,69.4 444.8,82.7 445.8,94.6 446.8,103.7 447.8,109.9 448.8,113.6 449.8,115.8 450.8,116.9 451.8,117.6 452.8,117.9 453.8,118.2 454.8,118.4 455.8,118.5 456.8,118.7 457.8,118.7 458.8,118.8 459.8,118.9 460.8,118.9 461.8,119.0 462.8,119.0 463.8,119.0 464.8,119.0 465.8,119.0 466.8,119.0 467.8,119.0 468.8,119.0 469.8,119.0 470.8,119.0 471.8,119.0 472.8,119.0 473.8,119.0 474.8,119.0 475.8,119.0 476.8,118.9 477.8,118.9 478.8,118.9 479.8,118.9 480.8,118.9 481.8,118.8 482.8,118.8 483.8,118.8 484.8,118.8 485.8,118.8 486.8,118.7 487.8,118.7 488.8,118.7 489.8,118.7 490.8,118.6 491.8,118.6 492.8,118.6 493.8,118.6 494.8,118.5 495.8,118.5 496.8,118.5 497.8,118.5 498.8,118.4 499.8,118.4 500.8,118.4 501.8,118.4 502.8,118.3 503.8,118.3 504.8,118.3 505.8,118.3 506.8,118.2 507.8,118.2 508.8,118.2 509.8,118.2 510.8,118.1 511.8,118.1 512.8,118.1 513.8,118.1 514.8,118.0 515.8,118.0 516.8,118.0 517.8,118.0 518.8,117.9 519.8,117.9 520.8,117.9 521.8,117.8 522.8,117.8 523.8,117.8 524.8,117.8 525.8,117.7 526.8,117.7 527.8,117.7 528.8,117.7 529.8,117.6 530.8,117.6 531.8,117.6 532.8,117.6 533.8,117.5 534.8,117.5" fill="none" stroke="#f03cf0" stroke-width="1.2" stroke-linejoin="round" />
<polyline points="395.8,121.3 396.8,121.3 397.8,121.2 398.8,121.2 399.8,121.2 400.8,121.1 401.8,121.1 402.8,121.1 403.8,121.0 404.8,121.0 405.8,121.0 406.8,120.9 407.8,120.9 408.8,120.9 409.8,120.8 410.8,120.8 411.8,120.8 412.8,120.7 413.8,120.7 414.8,120.6 415.8,120.6 416.8,120.6 417.8,120.5 418.8,120.5 419.8,120.4 420.8,120.4 421.8,120.3 422.8,120.3 423.8,120.2 424.8,120.1 425.8,120.1 426.8,120.0 427.8,119.9 428.8,119.8 429.8,119.7 430.8,119.5 431.8,119.4 432.8,119.2 433.8,119.0 434.8,118.7 435.8,118.3 436.8,117.7 437.8,116.7 438.8,114.8 439.8,111.4 440.8,106.0 441.8,98.2 442.8,88.1 443.8,77.1 444.8,67.5 445.8,62.6 446.8,64.8 447.8,72.8 448.8,83.6 449.8,94.2 450.8,102.9 451.8,109.2 452.8,113.3 453.8,115.6 454.8,116.9 455.8,117.6 456.8,118.0 457.8,118.3 458.8,118.4 459.8,118.6 460.8,118.7 461.8,118.7 462.8,118.8 463.8,118.9 464.8,118.9 465.8,118.9 466.8,118.9 467.8,119.0 468.8,119.0 469.8,119.0 470.8,119.0 471.8,119.0 472.8,119.0 473.8,119.0 474.8,118.9 475.8,118.9 476.8,118.9 477.8,118.9 478.8,118.9 479.8,118.9 480.8,118.9 481.8,118.8 482.8,118.8 483.8,118.8 484.8,118.8 485.8,118.8 486.8,118.7 487.8,118.7 488.8,118.7 489.8,118.7 490.8,118.6 491.8,118.6 492.8,118.6 493.8,118.6 494.8,118.5 495.8,118.5 496.8,118.5 497.8,118.5 498.8,118.5 499.8,118.4 500.8,118.4 501.8,118.4 502.8,118.4 503.8,118.3 504.8,118.3 505.8,118.3 506.8,118.2 507.8,118.2 508.8,118.2 509.8,118.2 510.8,118.1 511.8,118.1 512.8,118.1 513.8,118.1 514.8,118.0 515.8,118.0 516.8,118.0 517.8,118.0 518.8,117.9 519.8,117.9 520.8,117.9 521.8,117.9 522.8,117.8 523.8,117.8 524.8,117.8 525.8,117.7 526.8,117.7 527.8,117.7 528.8,117.7 529.8,117.6 530.8,117.6 531.8,117.6 532.8,117.6 533.8,117.5 534.8,117.5" fill="none" stroke="#9b30f0" stroke-width="1.2" stroke-linejoin="round" />
<polyline points="395.8,121.3 396.8,121.3 397.8,121.3 398.8,121.2 399.8,121.2 400.8,121.2 401.8,121.1 402.8,121.1 403.8,121.1 404.8,121.1 405.8,121.0 406.8,121.0 407.8,121.0 408.8,120.9 409.8,120.9 410.8,120.9 411.8,120.8 412.8,120.8 413.8,120.8 414.8,120.7 415.8,120.7 416.8,120.7 417.8,120.6 418.8,120.6 419.8,120.5 420.8,120.5 421.8,120.5 422.8,120.4 423.8,120.4 424.8,120.3 425.8,120.3 426.8,120.2 427.8,120.2 428.8,120.1 429.8,120.1 430.8,120.0 431.8,120.0 432.8,119.9 433.8,119.8 434.8,119.7 435.8,119.6 436.8,119.5 437.8,119.4 438.8,119.2 439.8,119.0 440.8,118.7 441.8,118.3 442.8,117.7 443.8,116.6 444.8,114.7 445.8,111.7 446.8,107.1 447.8,100.9 448.8,93.5 449.8,85.8 450.8,79.6 451.8,76.9 452.8,78.7 453.8,84.3 454.8,91.8 455.8,99.3 456.8,105.7 457.8,110.5 458.8,113.8 459.8,115.8 460.8,117.0 461.8,117.7 462.8,118.1 463.8,118.3 464.8,118.5 465.8,118.6 466.8,118.6 467.8,118.7 468.8,118.8 469.8,118.8 470.8,118.8 471.8,118.8 472.8,118.8 473.8,118.9 474.8,118.9 475.8,118.9 476.8,118.9 477.8,118.8 478.8,118.8 479.8,118.8 480.8,118.8 481.8,118.8 482.8,118.8 483.8,118.8 484.8,118.8 485.8,118.7 486.8,118.7 487.8,118.7 488.8,118.7 489.8,118.7 490.8,118.6 491.8,118.6 492.8,118.6 493.8,118.6 494.8,118.5 495.8,118.5 496.8,118.5 497.8,118.5 498.8,118.4 499.8,118.4 500.8,118.4 501.8,118.4 502.8,118.3 503.8,118.3 504.8,118.3 505.8,118.3 506.8,118.2 507.8,118.2 508.8,118.2 509.8,118.2 510.8,118.1 511.8,118.1 512.8,118.1 513.8,118.1 514.8,118.0 515.8,118.0 516.8,118.0 517.8,118.0 518.8,117.9 519.8,117.9 520.8,117.9 521.8,117.9 522.8,117.8 523.8,117.8 524.8,117.8 525.8,117.7 526.8,117.7 527.8,117.7 528.8,117.7 529.8,117.6 530.8,117.6 531.8,117.6 532.8,117.6 533.8,117.5 534.8,117.5" fill="none" stroke="#12901a" stroke-width="1.2" stroke-linejoin="round" />
<polyline points="395.8,121.3 396.8,121.3 397.8,121.3 398.8,121.3 399.8,121.2 400.8,121.2 401.8,121.2 402.8,121.1 403.8,121.1 404.8,121.1 405.8,121.1 406.8,121.0 407.8,121.0 408.8,121.0 409.8,120.9 410.8,120.9 411.8,120.9 412.8,120.8 413.8,120.8 414.8,120.8 415.8,120.7 416.8,120.7 417.8,120.7 418.8,120.6 419.8,120.6 420.8,120.6 421.8,120.5 422.8,120.5 423.8,120.5 424.8,120.4 425.8,120.4 426.8,120.4 427.8,120.3 428.8,120.3 429.8,120.3 430.8,120.2 431.8,120.2 432.8,120.1 433.8,120.1 434.8,120.0 435.8,120.0 436.8,119.9 437.8,119.9 438.8,119.8 439.8,119.7 440.8,119.6 441.8,119.6 442.8,119.5 443.8,119.3 444.8,119.2 445.8,119.0 446.8,118.8 447.8,118.4 448.8,117.8 449.8,116.8 450.8,115.2 451.8,112.8 452.8,109.3 453.8,104.8 454.8,99.5 455.8,94.2 456.8,89.8 457.8,87.7 458.8,88.6 459.8,92.2 460.8,97.2 461.8,102.5 462.8,107.3 463.8,111.2 464.8,114.0 465.8,115.8 466.8,117.0 467.8,117.7 468.8,118.1 469.8,118.3 470.8,118.4 471.8,118.5 472.8,118.6 473.8,118.6 474.8,118.7 475.8,118.7 476.8,118.7 477.8,118.7 478.8,118.7 479.8,118.7 480.8,118.7 481.8,118.7 482.8,118.7 483.8,118.7 484.8,118.7 485.8,118.7 486.8,118.7 487.8,118.7 488.8,118.6 489.8,118.6 490.8,118.6 491.8,118.6 492.8,118.6 493.8,118.5 494.8,118.5 495.8,118.5 496.8,118.5 497.8,118.5 498.8,118.4 499.8,118.4 500.8,118.4 501.8,118.4 502.8,118.3 503.8,118.3 504.8,118.3 505.8,118.3 506.8,118.2 507.8,118.2 508.8,118.2 509.8,118.2 510.8,118.1 511.8,118.1 512.8,118.1 513.8,118.1 514.8,118.0 515.8,118.0 516.8,118.0 517.8,118.0 518.8,117.9 519.8,117.9 520.8,117.9 521.8,117.9 522.8,117.8 523.8,117.8 524.8,117.8 525.8,117.7 526.8,117.7 527.8,117.7 528.8,117.7 529.8,117.6 530.8,117.6 531.8,117.6 532.8,117.6 533.8,117.5 534.8,117.5" fill="none" stroke="#22229a" stroke-width="1.2" stroke-linejoin="round" />
<polyline points="395.8,121.4 396.8,121.3 397.8,121.3 398.8,121.3 399.8,121.3 400.8,121.2 401.8,121.2 402.8,121.2 403.8,121.1 404.8,121.1 405.8,121.1 406.8,121.1 407.8,121.0 408.8,121.0 409.8,121.0 410.8,120.9 411.8,120.9 412.8,120.9 413.8,120.9 414.8,120.8 415.8,120.8 416.8,120.8 417.8,120.7 418.8,120.7 419.8,120.7 420.8,120.7 421.8,120.6 422.8,120.6 423.8,120.6 424.8,120.5 425.8,120.5 426.8,120.5 427.8,120.4 428.8,120.4 429.8,120.4 430.8,120.4 431.8,120.3 432.8,120.3 433.8,120.3 434.8,120.2 435.8,120.2 436.8,120.2 437.8,120.1 438.8,120.1 439.8,120.1 440.8,120.0 441.8,120.0 442.8,120.0 443.8,119.9 444.8,119.9 445.8,119.9 446.8,119.8 447.8,119.8 448.8,119.8 449.8,119.7 450.8,119.7 451.8,119.7 452.8,119.6 453.8,119.6 454.8,119.5 455.8,119.5 456.8,119.4 457.8,119.4 458.8,119.3 459.8,119.3 460.8,119.2 461.8,119.1 462.8,119.0 463.8,119.0 464.8,118.9 465.8,118.7 466.8,118.6 467.8,118.4 468.8,118.1 469.8,117.6 470.8,116.8 471.8,115.5 472.8,113.5 473.8,110.6 474.8,106.7 475.8,102.1 476.8,97.3 477.8,93.2 478.8,90.8 479.8,91.1 480.8,93.8 481.8,98.1 482.8,102.9 483.8,107.3 484.8,110.9 485.8,113.6 486.8,115.4 487.8,116.5 488.8,117.2 489.8,117.6 490.8,117.8 491.8,117.9 492.8,118.0 493.8,118.1 494.8,118.1 495.8,118.1 496.8,118.2 497.8,118.2 498.8,118.2 499.8,118.2 500.8,118.2 501.8,118.2 502.8,118.2 503.8,118.2 504.8,118.2 505.8,118.1 506.8,118.1 507.8,118.1 508.8,118.1 509.8,118.1 510.8,118.1 511.8,118.0 512.8,118.0 513.8,118.0 514.8,118.0 515.8,118.0 516.8,117.9 517.8,117.9 518.8,117.9 519.8,117.9 520.8,117.8 521.8,117.8 522.8,117.8 523.8,117.8 524.8,117.7 525.8,117.7 526.8,117.7 527.8,117.7 528.8,117.6 529.8,117.6 530.8,117.6 531.8,117.6 532.8,117.5 533.8,117.5 534.8,117.5" fill="none" stroke="#e3141b" stroke-width="1.2" stroke-linejoin="round" />
<polyline points="395.8,120.6 396.8,120.3 397.8,120.8 398.8,121.0 399.8,121.4 400.8,120.8 401.8,120.4 402.8,120.2 403.8,120.9 404.8,121.3 405.8,120.6 406.8,119.8 407.8,119.8 408.8,121.1 409.8,120.3 410.8,119.2 411.8,120.0 412.8,119.3 413.8,119.5 414.8,119.5 415.8,119.3 416.8,119.8 417.8,119.3 418.8,118.9 419.8,119.2 420.8,119.2 421.8,117.8 422.8,118.1 423.8,117.4 424.8,117.3 425.8,116.0 426.8,115.8 427.8,114.6 428.8,112.9 429.8,110.2 430.8,107.0 431.8,101.6 432.8,94.7 433.8,87.0 434.8,76.8 435.8,68.2 436.8,59.2 437.8,50.5 438.8,45.7 439.8,39.5 440.8,34.8 441.8,30.0 442.8,25.8 443.8,25.1 444.8,25.5 445.8,28.2 446.8,27.6 447.8,30.4 448.8,34.9 449.8,41.9 450.8,47.3 451.8,52.0 452.8,53.6 453.8,57.1 454.8,60.0 455.8,64.7 456.8,68.8 457.8,71.5 458.8,75.3 459.8,81.1 460.8,86.7 461.8,93.8 462.8,99.7 463.8,104.5 464.8,107.0 465.8,108.7 466.8,109.5 467.8,109.5 468.8,109.1 469.8,110.1 470.8,109.2 471.8,109.1 472.8,108.3 473.8,107.7 474.8,104.1 475.8,99.8 476.8,95.3 477.8,92.2 478.8,89.2 479.8,89.4 480.8,93.2 481.8,96.6 482.8,101.9 483.8,106.5 484.8,110.0 485.8,112.9 486.8,115.4 487.8,115.6 488.8,116.0 489.8,116.1 490.8,117.2 491.8,117.2 492.8,117.7 493.8,117.4 494.8,117.4 495.8,117.4 496.8,117.5 497.8,117.9 498.8,117.6 499.8,117.9 500.8,118.8 501.8,118.1 502.8,117.1 503.8,118.7 504.8,118.0 505.8,117.4 506.8,118.3 507.8,117.9 508.8,117.5 509.8,117.5 510.8,117.3 511.8,117.8 512.8,118.3 513.8,117.6 514.8,118.0 515.8,118.7 516.8,117.1 517.8,117.8 518.8,117.5 519.8,117.2 520.8,117.1 521.8,117.6 522.8,117.8 523.8,117.3 524.8,117.6 525.8,117.9 526.8,117.7 527.8,118.0 528.8,117.7 529.8,117.7 530.8,118.4 531.8,117.7 532.8,117.5 533.8,117.7 534.8,116.9" fill="none" stroke="#111" stroke-width="1.1" stroke-linejoin="round" />
<polyline points="395.8,121.0 396.8,120.9 397.8,120.9 398.8,120.8 399.8,120.8 400.8,120.7 401.8,120.7 402.8,120.6 403.8,120.6 404.8,120.5 405.8,120.5 406.8,120.4 407.8,120.3 408.8,120.3 409.8,120.2 410.8,120.1 411.8,120.0 412.8,119.9 413.8,119.8 414.8,119.7 415.8,119.6 416.8,119.5 417.8,119.4 418.8,119.2 419.8,119.0 420.8,118.8 421.8,118.6 422.8,118.3 423.8,117.9 424.8,117.3 425.8,116.7 426.8,115.8 427.8,114.6 428.8,112.9 429.8,110.4 430.8,106.7 431.8,101.2 432.8,93.6 433.8,84.2 434.8,73.4 435.8,62.9 436.8,54.0 437.8,47.0 438.8,40.4 439.8,33.4 440.8,26.8 441.8,22.8 442.8,22.1 443.8,23.2 444.8,25.0 445.8,28.2 446.8,33.9 447.8,40.9 448.8,46.9 449.8,50.7 450.8,52.8 451.8,54.7 452.8,57.8 453.8,61.9 454.8,66.1 455.8,69.5 456.8,72.3 457.8,75.5 458.8,80.0 459.8,85.7 460.8,91.9 461.8,97.7 462.8,102.6 463.8,106.1 464.8,108.5 465.8,109.8 466.8,110.6 467.8,111.0 468.8,111.4 469.8,111.7 470.8,111.7 471.8,111.3 472.8,110.2 473.8,107.9 474.8,104.6 475.8,100.4 476.8,95.9 477.8,92.0 478.8,89.7 479.8,90.1 480.8,92.9 481.8,97.2 482.8,102.1 483.8,106.5 484.8,110.2 485.8,112.9 486.8,114.7 487.8,115.9 488.8,116.6 489.8,117.0 490.8,117.3 491.8,117.4 492.8,117.5 493.8,117.6 494.8,117.7 495.8,117.7 496.8,117.8 497.8,117.8 498.8,117.8 499.8,117.8 500.8,117.8 501.8,117.9 502.8,117.9 503.8,117.9 504.8,117.9 505.8,117.9 506.8,117.9 507.8,117.9 508.8,117.8 509.8,117.8 510.8,117.8 511.8,117.8 512.8,117.8 513.8,117.8 514.8,117.8 515.8,117.8 516.8,117.7 517.8,117.7 518.8,117.7 519.8,117.7 520.8,117.7 521.8,117.6 522.8,117.6 523.8,117.6 524.8,117.6 525.8,117.6 526.8,117.5 527.8,117.5 528.8,117.5 529.8,117.5 530.8,117.5 531.8,117.4 532.8,117.4 533.8,117.4 534.8,117.4" fill="none" stroke="#e3141b" stroke-width="1.8" stroke-linejoin="round" />
</g>
<rect x="395.3" y="11.3" width="140.3" height="113.2" fill="none" stroke="#4a4a4a" stroke-width="1"/>
<line x1="404.65" y1="124.5" x2="404.65" y2="126.3" stroke="#333" stroke-width="0.9"/>
<line x1="414.01" y1="124.5" x2="414.01" y2="126.8" stroke="#333" stroke-width="0.9"/>
<line x1="423.36" y1="124.5" x2="423.36" y2="126.3" stroke="#333" stroke-width="0.9"/>
<line x1="432.71" y1="124.5" x2="432.71" y2="126.8" stroke="#333" stroke-width="0.9"/>
<line x1="442.07" y1="124.5" x2="442.07" y2="126.3" stroke="#333" stroke-width="0.9"/>
<line x1="451.42" y1="124.5" x2="451.42" y2="126.8" stroke="#333" stroke-width="0.9"/>
<line x1="460.77" y1="124.5" x2="460.77" y2="126.3" stroke="#333" stroke-width="0.9"/>
<line x1="470.13" y1="124.5" x2="470.13" y2="126.8" stroke="#333" stroke-width="0.9"/>
<line x1="479.48" y1="124.5" x2="479.48" y2="126.3" stroke="#333" stroke-width="0.9"/>
<line x1="488.83" y1="124.5" x2="488.83" y2="126.8" stroke="#333" stroke-width="0.9"/>
<line x1="498.19" y1="124.5" x2="498.19" y2="126.3" stroke="#333" stroke-width="0.9"/>
<line x1="507.54" y1="124.5" x2="507.54" y2="126.8" stroke="#333" stroke-width="0.9"/>
<line x1="516.89" y1="124.5" x2="516.89" y2="126.3" stroke="#333" stroke-width="0.9"/>
<line x1="526.25" y1="124.5" x2="526.25" y2="126.8" stroke="#333" stroke-width="0.9"/>
<text transform="matrix(0.90397 0 0 0.90397 388.50 134.51)" fill="#000" stroke="#000" stroke-width="0.4425">280</text>
<text transform="matrix(0.90397 0 0 0.90397 407.23 134.51)" fill="#000" stroke="#000" stroke-width="0.4425">282</text>
<text transform="matrix(0.90397 0 0 0.90397 425.83 134.51)" fill="#000" stroke="#000" stroke-width="0.4425">284</text>
<text transform="matrix(0.90397 0 0 0.90397 444.58 134.51)" fill="#000" stroke="#000" stroke-width="0.4425">286</text>
<text transform="matrix(0.90397 0 0 0.90397 463.31 134.51)" fill="#000" stroke="#000" stroke-width="0.4425">288</text>
<text transform="matrix(0.90397 0 0 0.90397 482.04 134.51)" fill="#000" stroke="#000" stroke-width="0.4425">290</text>
<text transform="matrix(0.90791 0 0 0.90791 500.74 134.51)" fill="#000" stroke="#000" stroke-width="0.4406">292</text>
<text transform="matrix(0.90791 0 0 0.90791 519.33 134.51)" fill="#000" stroke="#000" stroke-width="0.4406">294</text>
<text transform="matrix(0.87125 0 0 0.97453 397.35 20.65)" fill="#000" stroke="#000" stroke-width="0.4334">PVAc/rGO-PDDA</text>
<text transform="matrix(0.94923 0 0 0.95256 397.84 32.31)" fill="#000" stroke="#000" stroke-width="0.4207">C1s</text>
<text transform="matrix(1.66345 0 0 1.51091 505.77 29.38)" fill="#000" stroke="#000" stroke-width="0.2520">(c)</text>
<text transform="matrix(0.85640 0 0 0.92756 416.64 50.47)" fill="#000" stroke="#000" stroke-width="0.4484">284.9</text>
<text transform="matrix(0.91347 0 0 0.89812 454.12 57.67)" fill="#000" stroke="#000" stroke-width="0.4416">285.4</text>
<text transform="matrix(0.88580 0 0 0.86867 461.03 74.18)" fill="#000" stroke="#000" stroke-width="0.4560">286.1</text>
<text transform="matrix(0.87863 0 0 0.94229 413.33 82.67)" fill="#000" stroke="#000" stroke-width="0.4393">284.3</text>
<text transform="matrix(0.88386 0 0 0.94229 462.93 87.97)" fill="#000" stroke="#000" stroke-width="0.4381">286.7</text>
<text transform="matrix(0.88943 0 0 0.85395 484.13 90.58)" fill="#000" stroke="#000" stroke-width="0.4589">289.0</text>
<text transform="matrix(0.86781 0 0 0.82007 430.66 144.19)" fill="#000" stroke="#000" stroke-width="0.4740">Binding energy (eV)</text>
<text transform="matrix(0 -0.88640 0.82448 0 383.52 99.10)" fill="#000" stroke="#000" stroke-width="0.4676">Intensity (a.u)</text>
<clipPath id="cpd"><rect x="28.4" y="153.8" width="140.2" height="112.69999999999999"/></clipPath>
<g clip-path="url(#cpd)">
<polyline points="28.9,257.8 29.9,257.8 30.9,257.7 31.9,257.7 32.9,257.7 33.9,257.6 34.9,257.6 35.9,257.6 36.9,257.5 37.9,257.5 38.9,257.5 39.9,257.4 40.9,257.4 41.9,257.4 42.9,257.4 43.9,257.3 44.9,257.3 45.9,257.3 46.9,257.2 47.9,257.2 48.9,257.2 49.9,257.1 50.9,257.1 51.9,257.1 52.9,257.0 53.9,257.0 54.9,257.0 55.9,257.0 56.9,256.9 57.9,256.9 58.9,256.9 59.9,256.8 60.9,256.8 61.9,256.8 62.9,256.7 63.9,256.7 64.9,256.7 65.9,256.6 66.9,256.6 67.9,256.6 68.9,256.6 69.9,256.5 70.9,256.5 71.9,256.5 72.9,256.4 73.9,256.4 74.9,256.4 75.9,256.3 76.9,256.3 77.9,256.3 78.9,256.2 79.9,256.2 80.9,256.2 81.9,256.2 82.9,256.1 83.9,256.1 84.9,256.1 85.9,256.0 86.9,256.0 87.9,256.0 88.9,255.9 89.9,255.9 90.9,255.9 91.9,255.8 92.9,255.8 93.9,255.8 94.9,255.7 95.9,255.7 96.9,255.7 97.9,255.6 98.9,255.6 99.9,255.6 100.9,255.5 101.9,255.5 102.9,255.5 103.9,255.5 104.9,255.4 105.9,255.4 106.9,255.4 107.9,255.3 108.9,255.3 109.9,255.3 110.9,255.2 111.9,255.2 112.9,255.1 113.9,255.1 114.9,255.1 115.9,255.0 116.9,255.0 117.9,255.0 118.9,254.9 119.9,254.9 120.9,254.9 121.9,254.8 122.9,254.8 123.9,254.7 124.9,254.7 125.9,254.7 126.9,254.6 127.9,254.6 128.9,254.5 129.9,254.5 130.9,254.5 131.9,254.4 132.9,254.4 133.9,254.3 134.9,254.3 135.9,254.2 136.9,254.2 137.9,254.1 138.9,254.1 139.9,254.0 140.9,254.0 141.9,253.9 142.9,253.8 143.9,253.8 144.9,253.7 145.9,253.6 146.9,253.6 147.9,253.5 148.9,253.4 149.9,253.4 150.9,253.3 151.9,253.2 152.9,253.1 153.9,253.0 154.9,252.9 155.9,252.8 156.9,252.7 157.9,252.6 158.9,252.5 159.9,252.4 160.9,252.2 161.9,252.1 162.9,252.0 163.9,251.8 164.9,251.7 165.9,251.5 166.9,251.3 167.9,251.1" fill="none" stroke="#9b30f0" stroke-width="1.2" stroke-linejoin="round" />
<polyline points="28.9,258.2 29.9,258.6 30.9,256.0 31.9,257.4 32.9,258.1 33.9,258.3 34.9,257.8 35.9,258.3 36.9,257.5 37.9,257.6 38.9,257.4 39.9,256.6 40.9,256.7 41.9,257.4 42.9,256.8 43.9,257.8 44.9,257.8 45.9,258.1 46.9,256.9 47.9,257.7 48.9,256.3 49.9,256.3 50.9,256.8 51.9,256.9 52.9,255.7 53.9,255.6 54.9,256.8 55.9,256.0 56.9,257.2 57.9,256.7 58.9,256.6 59.9,256.5 60.9,256.8 61.9,256.2 62.9,256.8 63.9,255.8 64.9,255.9 65.9,255.6 66.9,256.3 67.9,255.9 68.9,255.3 69.9,256.9 70.9,255.4 71.9,255.4 72.9,255.5 73.9,256.2 74.9,254.8 75.9,255.0 76.9,254.3 77.9,252.8 78.9,253.6 79.9,252.9 80.9,251.2 81.9,250.1 82.9,247.7 83.9,245.8 84.9,244.3 85.9,242.2 86.9,238.4 87.9,235.3 88.9,231.6 89.9,226.5 90.9,221.7 91.9,216.8 92.9,209.4 93.9,204.6 94.9,197.0 95.9,192.4 96.9,186.5 97.9,180.7 98.9,175.7 99.9,172.4 100.9,169.3 101.9,167.8 102.9,166.5 103.9,168.0 104.9,168.8 105.9,172.1 106.9,175.9 107.9,181.5 108.9,185.1 109.9,191.4 110.9,198.3 111.9,203.2 112.9,208.7 113.9,215.4 114.9,220.4 115.9,226.1 116.9,229.5 117.9,234.2 118.9,238.1 119.9,241.3 120.9,242.6 121.9,246.3 122.9,246.7 123.9,247.8 124.9,249.3 125.9,250.9 126.9,251.3 127.9,252.3 128.9,252.7 129.9,252.9 130.9,252.8 131.9,254.2 132.9,251.9 133.9,252.3 134.9,253.0 135.9,252.6 136.9,251.9 137.9,252.9 138.9,252.9 139.9,251.9 140.9,253.9 141.9,254.1 142.9,254.0 143.9,252.9 144.9,253.3 145.9,252.5 146.9,253.2 147.9,252.7 148.9,253.3 149.9,252.7 150.9,253.5 151.9,253.3 152.9,253.5 153.9,251.7 154.9,251.5 155.9,252.7 156.9,252.1 157.9,252.5 158.9,252.4 159.9,252.2 160.9,252.5 161.9,252.2 162.9,252.0 163.9,251.0 164.9,252.5 165.9,251.3 166.9,251.8 167.9,251.1" fill="none" stroke="#111" stroke-width="1.1" stroke-linejoin="round" />
<polyline points="28.9,257.7 29.9,257.7 30.9,257.6 31.9,257.6 32.9,257.6 33.9,257.5 34.9,257.5 35.9,257.5 36.9,257.4 37.9,257.4 38.9,257.4 39.9,257.3 40.9,257.3 41.9,257.3 42.9,257.2 43.9,257.2 44.9,257.1 45.9,257.1 46.9,257.1 47.9,257.0 48.9,257.0 49.9,257.0 50.9,256.9 51.9,256.9 52.9,256.9 53.9,256.8 54.9,256.8 55.9,256.7 56.9,256.7 57.9,256.7 58.9,256.6 59.9,256.6 60.9,256.5 61.9,256.5 62.9,256.4 63.9,256.4 64.9,256.4 65.9,256.3 66.9,256.3 67.9,256.2 68.9,256.2 69.9,256.1 70.9,256.0 71.9,256.0 72.9,255.9 73.9,255.9 74.9,255.8 75.9,255.7 76.9,255.6 77.9,255.6 78.9,255.5 79.9,255.4 80.9,255.3 81.9,255.1 82.9,255.0 83.9,254.8 84.9,254.5 85.9,254.1 86.9,253.6 87.9,252.9 88.9,251.9 89.9,250.5 90.9,248.6 91.9,246.1 92.9,242.9 93.9,239.0 94.9,234.1 95.9,228.5 96.9,222.2 97.9,215.3 98.9,208.3 99.9,201.4 100.9,195.1 101.9,189.9 102.9,186.3 103.9,184.5 104.9,184.9 105.9,187.4 106.9,191.6 107.9,197.3 108.9,203.8 109.9,210.7 110.9,217.7 111.9,224.3 112.9,230.3 113.9,235.5 114.9,239.9 115.9,243.5 116.9,246.4 117.9,248.5 118.9,250.1 119.9,251.3 120.9,252.1 121.9,252.7 122.9,253.0 123.9,253.3 124.9,253.5 125.9,253.6 126.9,253.7 127.9,253.7 128.9,253.7 129.9,253.8 130.9,253.8 131.9,253.8 132.9,253.8 133.9,253.8 134.9,253.7 135.9,253.7 136.9,253.7 137.9,253.7 138.9,253.6 139.9,253.6 140.9,253.6 141.9,253.5 142.9,253.5 143.9,253.5 144.9,253.4 145.9,253.4 146.9,253.3 147.9,253.2 148.9,253.2 149.9,253.1 150.9,253.0 151.9,253.0 152.9,252.9 153.9,252.8 154.9,252.7 155.9,252.6 156.9,252.5 157.9,252.4 158.9,252.3 159.9,252.2 160.9,252.1 161.9,252.0 162.9,251.8 163.9,251.7 164.9,251.5 165.9,251.4 166.9,251.2 167.9,251.0" fill="none" stroke="#12901a" stroke-width="1.2" stroke-linejoin="round" />
<polyline points="28.9,257.7 29.9,257.6 30.9,257.6 31.9,257.6 32.9,257.5 33.9,257.5 34.9,257.5 35.9,257.4 36.9,257.4 37.9,257.4 38.9,257.3 39.9,257.3 40.9,257.3 41.9,257.2 42.9,257.2 43.9,257.1 44.9,257.1 45.9,257.1 46.9,257.0 47.9,257.0 48.9,256.9 49.9,256.9 50.9,256.9 51.9,256.8 52.9,256.8 53.9,256.7 54.9,256.7 55.9,256.7 56.9,256.6 57.9,256.6 58.9,256.5 59.9,256.5 60.9,256.4 61.9,256.4 62.9,256.3 63.9,256.2 64.9,256.2 65.9,256.1 66.9,256.0 67.9,256.0 68.9,255.9 69.9,255.8 70.9,255.6 71.9,255.5 72.9,255.3 73.9,255.0 74.9,254.7 75.9,254.3 76.9,253.7 77.9,253.0 78.9,252.0 79.9,250.8 80.9,249.4 81.9,247.6 82.9,245.4 83.9,242.9 84.9,240.1 85.9,236.8 86.9,233.4 87.9,229.7 88.9,225.9 89.9,222.1 90.9,218.6 91.9,215.5 92.9,212.9 93.9,211.0 94.9,209.9 95.9,209.8 96.9,210.6 97.9,212.3 98.9,214.7 99.9,217.7 100.9,221.1 101.9,224.7 102.9,228.4 103.9,232.1 104.9,235.6 105.9,238.8 106.9,241.6 107.9,244.2 108.9,246.3 109.9,248.1 110.9,249.6 111.9,250.8 112.9,251.7 113.9,252.4 114.9,252.9 115.9,253.3 116.9,253.6 117.9,253.8 118.9,253.9 119.9,254.0 120.9,254.1 121.9,254.1 122.9,254.1 123.9,254.2 124.9,254.2 125.9,254.2 126.9,254.1 127.9,254.1 128.9,254.1 129.9,254.1 130.9,254.1 131.9,254.1 132.9,254.0 133.9,254.0 134.9,254.0 135.9,253.9 136.9,253.9 137.9,253.9 138.9,253.8 139.9,253.8 140.9,253.7 141.9,253.7 142.9,253.6 143.9,253.6 144.9,253.5 145.9,253.5 146.9,253.4 147.9,253.3 148.9,253.3 149.9,253.2 150.9,253.1 151.9,253.0 152.9,253.0 153.9,252.9 154.9,252.8 155.9,252.7 156.9,252.6 157.9,252.5 158.9,252.4 159.9,252.2 160.9,252.1 161.9,252.0 162.9,251.9 163.9,251.7 164.9,251.6 165.9,251.4 166.9,251.2 167.9,251.0" fill="none" stroke="#22229a" stroke-width="1.2" stroke-linejoin="round" />
<polyline points="28.9,257.6 29.9,257.6 30.9,257.5 31.9,257.5 32.9,257.5 33.9,257.4 34.9,257.4 35.9,257.4 36.9,257.3 37.9,257.3 38.9,257.3 39.9,257.2 40.9,257.2 41.9,257.1 42.9,257.1 43.9,257.1 44.9,257.0 45.9,257.0 46.9,256.9 47.9,256.9 48.9,256.9 49.9,256.8 50.9,256.8 51.9,256.7 52.9,256.7 53.9,256.6 54.9,256.6 55.9,256.6 56.9,256.5 57.9,256.5 58.9,256.4 59.9,256.4 60.9,256.3 61.9,256.2 62.9,256.2 63.9,256.1 64.9,256.1 65.9,256.0 66.9,255.9 67.9,255.9 68.9,255.8 69.9,255.7 70.9,255.6 71.9,255.5 72.9,255.3 73.9,255.1 74.9,254.9 75.9,254.6 76.9,254.2 77.9,253.7 78.9,253.1 79.9,252.3 80.9,251.3 81.9,250.1 82.9,248.6 83.9,246.7 84.9,244.5 85.9,241.8 86.9,238.7 87.9,235.1 88.9,231.0 89.9,226.4 90.9,221.4 91.9,215.9 92.9,210.1 93.9,204.2 94.9,198.1 95.9,192.1 96.9,186.4 97.9,181.0 98.9,176.4 99.9,172.5 100.9,169.5 101.9,167.7 102.9,167.1 103.9,167.7 104.9,169.4 105.9,172.3 106.9,176.1 107.9,180.7 108.9,186.0 109.9,191.6 110.9,197.6 111.9,203.6 112.9,209.5 113.9,215.2 114.9,220.6 115.9,225.6 116.9,230.1 117.9,234.1 118.9,237.7 119.9,240.7 120.9,243.3 121.9,245.5 122.9,247.3 123.9,248.7 124.9,249.9 125.9,250.8 126.9,251.5 127.9,252.0 128.9,252.4 129.9,252.7 130.9,253.0 131.9,253.1 132.9,253.2 133.9,253.3 134.9,253.4 135.9,253.4 136.9,253.4 137.9,253.4 138.9,253.4 139.9,253.4 140.9,253.3 141.9,253.3 142.9,253.3 143.9,253.3 144.9,253.2 145.9,253.2 146.9,253.1 147.9,253.1 148.9,253.0 149.9,253.0 150.9,252.9 151.9,252.8 152.9,252.7 153.9,252.7 154.9,252.6 155.9,252.5 156.9,252.4 157.9,252.3 158.9,252.2 159.9,252.1 160.9,252.0 161.9,251.8 162.9,251.7 163.9,251.6 164.9,251.4 165.9,251.3 166.9,251.1 167.9,250.9" fill="none" stroke="#e3141b" stroke-width="1.8" stroke-linejoin="round" />
</g>
<rect x="28.4" y="153.8" width="140.2" height="112.69999999999999" fill="none" stroke="#4a4a4a" stroke-width="1"/>
<line x1="37.75" y1="266.5" x2="37.75" y2="268.8" stroke="#333" stroke-width="0.9"/>
<line x1="47.09" y1="266.5" x2="47.09" y2="268.3" stroke="#333" stroke-width="0.9"/>
<line x1="56.44" y1="266.5" x2="56.44" y2="268.8" stroke="#333" stroke-width="0.9"/>
<line x1="65.79" y1="266.5" x2="65.79" y2="268.3" stroke="#333" stroke-width="0.9"/>
<line x1="75.13" y1="266.5" x2="75.13" y2="268.8" stroke="#333" stroke-width="0.9"/>
<line x1="84.48" y1="266.5" x2="84.48" y2="268.3" stroke="#333" stroke-width="0.9"/>
<line x1="93.83" y1="266.5" x2="93.83" y2="268.8" stroke="#333" stroke-width="0.9"/>
<line x1="103.17" y1="266.5" x2="103.17" y2="268.3" stroke="#333" stroke-width="0.9"/>
<line x1="112.52" y1="266.5" x2="112.52" y2="268.8" stroke="#333" stroke-width="0.9"/>
<line x1="121.87" y1="266.5" x2="121.87" y2="268.3" stroke="#333" stroke-width="0.9"/>
<line x1="131.21" y1="266.5" x2="131.21" y2="268.8" stroke="#333" stroke-width="0.9"/>
<line x1="140.56" y1="266.5" x2="140.56" y2="268.3" stroke="#333" stroke-width="0.9"/>
<line x1="149.91" y1="266.5" x2="149.91" y2="268.8" stroke="#333" stroke-width="0.9"/>
<line x1="159.25" y1="266.5" x2="159.25" y2="268.3" stroke="#333" stroke-width="0.9"/>
<text transform="matrix(0.92279 0 0 0.92279 30.78 277.41)" fill="#000" stroke="#000" stroke-width="0.4335">526</text>
<text transform="matrix(0.91878 0 0 0.91878 49.52 277.41)" fill="#000" stroke="#000" stroke-width="0.4354">528</text>
<text transform="matrix(0.91878 0 0 0.91878 68.23 277.41)" fill="#000" stroke="#000" stroke-width="0.4354">530</text>
<text transform="matrix(0.92279 0 0 0.92279 86.92 277.41)" fill="#000" stroke="#000" stroke-width="0.4335">532</text>
<text transform="matrix(0.92279 0 0 0.92279 105.50 277.41)" fill="#000" stroke="#000" stroke-width="0.4335">534</text>
<text transform="matrix(0.92279 0 0 0.92279 124.24 277.41)" fill="#000" stroke="#000" stroke-width="0.4335">536</text>
<text transform="matrix(0.91878 0 0 0.91878 142.98 277.41)" fill="#000" stroke="#000" stroke-width="0.4354">538</text>
<text transform="matrix(0.91878 0 0 0.91878 161.70 277.41)" fill="#000" stroke="#000" stroke-width="0.4354">540</text>
<text transform="matrix(1.02880 0 0 0.86326 30.20 168.52)" fill="#000" stroke="#000" stroke-width="0.4228">GO</text>
<text transform="matrix(1.02275 0 0 0.86326 30.20 180.62)" fill="#000" stroke="#000" stroke-width="0.4242">O1s</text>
<text transform="matrix(1.68389 0 0 1.52194 136.06 168.96)" fill="#000" stroke="#000" stroke-width="0.2495">(d)</text>
<text transform="matrix(0.96144 0 0 0.88722 93.22 161.47)" fill="#000" stroke="#000" stroke-width="0.4327">532.9</text>
<text transform="matrix(0.98993 0 0 0.95701 114.10 177.36)" fill="#000" stroke="#000" stroke-width="0.4109">533.0</text>
<text transform="matrix(0.94986 0 0 0.94637 60.62 205.87)" fill="#000" stroke="#000" stroke-width="0.4219">532.1</text>
<text transform="matrix(0.95669 0 0 0.96222 58.44 288.68)" fill="#000" stroke="#000" stroke-width="0.4169">Binding energy (eV)</text>
<text transform="matrix(0 -0.97926 0.80249 0 20.07 237.33)" fill="#000" stroke="#000" stroke-width="0.4490">Intensity (a.u)</text>
<line x1="101" y1="164.3" x2="99.7" y2="167.4" stroke="#000" stroke-width="0.8"/>
<line x1="113.5" y1="176.2" x2="105.5" y2="182.8" stroke="#000" stroke-width="0.8"/>
<line x1="83.8" y1="205.3" x2="95.5" y2="208.8" stroke="#000" stroke-width="0.8"/>
<clipPath id="cpe"><rect x="205.2" y="155.6" width="140.60000000000002" height="113.70000000000002"/></clipPath>
<g clip-path="url(#cpe)">
<polyline points="205.7,253.0 206.7,252.9 207.7,252.9 208.7,252.9 209.7,252.8 210.7,252.8 211.7,252.8 212.7,252.7 213.7,252.7 214.7,252.6 215.7,252.6 216.7,252.6 217.7,252.5 218.7,252.5 219.7,252.5 220.7,252.4 221.7,252.4 222.7,252.4 223.7,252.3 224.7,252.3 225.7,252.2 226.7,252.2 227.7,252.2 228.7,252.1 229.7,252.1 230.7,252.1 231.7,252.0 232.7,252.0 233.7,251.9 234.7,251.9 235.7,251.9 236.7,251.8 237.7,251.8 238.7,251.8 239.7,251.7 240.7,251.7 241.7,251.7 242.7,251.6 243.7,251.6 244.7,251.5 245.7,251.5 246.7,251.5 247.7,251.4 248.7,251.4 249.7,251.4 250.7,251.3 251.7,251.3 252.7,251.2 253.7,251.2 254.7,251.2 255.7,251.1 256.7,251.1 257.7,251.1 258.7,251.0 259.7,251.0 260.7,250.9 261.7,250.9 262.7,250.9 263.7,250.8 264.7,250.8 265.7,250.8 266.7,250.7 267.7,250.7 268.7,250.7 269.7,250.6 270.7,250.6 271.7,250.5 272.7,250.5 273.7,250.5 274.7,250.4 275.7,250.4 276.7,250.4 277.7,250.3 278.7,250.3 279.7,250.2 280.7,250.2 281.7,250.2 282.7,250.1 283.7,250.1 284.7,250.1 285.7,250.0 286.7,250.0 287.7,249.9 288.7,249.9 289.7,249.9 290.7,249.8 291.7,249.8 292.7,249.8 293.7,249.7 294.7,249.7 295.7,249.7 296.7,249.6 297.7,249.6 298.7,249.5 299.7,249.5 300.7,249.5 301.7,249.4 302.7,249.4 303.7,249.4 304.7,249.3 305.7,249.3 306.7,249.2 307.7,249.2 308.7,249.2 309.7,249.1 310.7,249.1 311.7,249.1 312.7,249.0 313.7,249.0 314.7,249.0 315.7,248.9 316.7,248.9 317.7,248.8 318.7,248.8 319.7,248.8 320.7,248.7 321.7,248.7 322.7,248.7 323.7,248.6 324.7,248.6 325.7,248.5 326.7,248.5 327.7,248.5 328.7,248.4 329.7,248.4 330.7,248.4 331.7,248.3 332.7,248.3 333.7,248.2 334.7,248.2 335.7,248.2 336.7,248.1 337.7,248.1 338.7,248.1 339.7,248.0 340.7,248.0 341.7,248.0 342.7,247.9 343.7,247.9 344.7,247.8" fill="none" stroke="#22229a" stroke-width="1.2" stroke-linejoin="round" />
<polyline points="205.7,250.6 206.7,250.3 207.7,249.6 208.7,248.9 209.7,248.9 210.7,248.4 211.7,248.9 212.7,249.6 213.7,248.9 214.7,249.1 215.7,249.9 216.7,250.1 217.7,250.3 218.7,250.0 219.7,250.6 220.7,251.1 221.7,250.2 222.7,250.7 223.7,250.1 224.7,250.4 225.7,250.1 226.7,250.9 227.7,250.4 228.7,251.1 229.7,250.9 230.7,250.7 231.7,249.4 232.7,250.2 233.7,250.3 234.7,250.2 235.7,249.1 236.7,249.4 237.7,248.9 238.7,248.6 239.7,249.2 240.7,247.9 241.7,247.9 242.7,247.9 243.7,246.7 244.7,246.4 245.7,246.0 246.7,245.4 247.7,244.2 248.7,244.2 249.7,244.1 250.7,241.8 251.7,241.9 252.7,240.3 253.7,238.2 254.7,237.3 255.7,233.9 256.7,229.3 257.7,225.5 258.7,220.3 259.7,213.7 260.7,207.2 261.7,199.3 262.7,192.0 263.7,185.2 264.7,177.7 265.7,173.0 266.7,168.9 267.7,166.6 268.7,164.4 269.7,163.8 270.7,163.7 271.7,164.7 272.7,166.3 273.7,167.6 274.7,171.7 275.7,177.2 276.7,181.3 277.7,187.6 278.7,193.3 279.7,199.2 280.7,203.9 281.7,208.2 282.7,212.7 283.7,217.0 284.7,222.0 285.7,224.8 286.7,228.4 287.7,231.8 288.7,234.4 289.7,236.8 290.7,238.4 291.7,240.7 292.7,241.9 293.7,243.8 294.7,244.3 295.7,244.5 296.7,245.2 297.7,244.8 298.7,245.4 299.7,244.7 300.7,244.7 301.7,243.3 302.7,243.6 303.7,242.0 304.7,241.1 305.7,241.3 306.7,240.4 307.7,240.4 308.7,241.0 309.7,239.1 310.7,239.1 311.7,239.6 312.7,240.1 313.7,240.2 314.7,240.8 315.7,241.9 316.7,242.6 317.7,242.5 318.7,243.7 319.7,244.4 320.7,244.4 321.7,245.6 322.7,245.5 323.7,246.8 324.7,246.7 325.7,246.9 326.7,246.8 327.7,247.2 328.7,246.3 329.7,246.9 330.7,247.7 331.7,246.4 332.7,248.0 333.7,246.7 334.7,247.9 335.7,247.1 336.7,247.9 337.7,247.6 338.7,246.8 339.7,248.1 340.7,248.2 341.7,247.4 342.7,247.3 343.7,247.4 344.7,246.9" fill="none" stroke="#111" stroke-width="1.1" stroke-linejoin="round" />
<polyline points="205.7,252.8 206.7,252.8 207.7,252.7 208.7,252.7 209.7,252.6 210.7,252.6 211.7,252.6 212.7,252.5 213.7,252.5 214.7,252.4 215.7,252.4 216.7,252.3 217.7,252.3 218.7,252.2 219.7,252.2 220.7,252.1 221.7,252.1 222.7,252.0 223.7,252.0 224.7,251.9 225.7,251.9 226.7,251.8 227.7,251.8 228.7,251.7 229.7,251.7 230.7,251.6 231.7,251.5 232.7,251.5 233.7,251.4 234.7,251.3 235.7,251.2 236.7,251.2 237.7,251.1 238.7,251.0 239.7,250.9 240.7,250.8 241.7,250.7 242.7,250.6 243.7,250.4 244.7,250.3 245.7,250.1 246.7,249.9 247.7,249.7 248.7,249.4 249.7,249.0 250.7,248.5 251.7,247.7 252.7,246.7 253.7,245.3 254.7,243.3 255.7,240.8 256.7,237.4 257.7,233.3 258.7,228.4 259.7,222.8 260.7,216.8 261.7,210.7 262.7,205.1 263.7,200.5 264.7,197.5 265.7,196.8 266.7,198.4 267.7,202.0 268.7,207.0 269.7,212.8 270.7,218.9 271.7,224.7 272.7,229.9 273.7,234.5 274.7,238.2 275.7,241.1 276.7,243.4 277.7,245.0 278.7,246.2 279.7,247.0 280.7,247.6 281.7,248.0 282.7,248.2 283.7,248.4 284.7,248.6 285.7,248.7 286.7,248.8 287.7,248.8 288.7,248.9 289.7,248.9 290.7,249.0 291.7,249.0 292.7,249.0 293.7,249.0 294.7,249.0 295.7,249.0 296.7,249.0 297.7,249.0 298.7,249.0 299.7,249.0 300.7,249.0 301.7,249.0 302.7,249.0 303.7,249.0 304.7,248.9 305.7,248.9 306.7,248.9 307.7,248.9 308.7,248.9 309.7,248.8 310.7,248.8 311.7,248.8 312.7,248.8 313.7,248.7 314.7,248.7 315.7,248.7 316.7,248.7 317.7,248.6 318.7,248.6 319.7,248.6 320.7,248.5 321.7,248.5 322.7,248.5 323.7,248.4 324.7,248.4 325.7,248.4 326.7,248.4 327.7,248.3 328.7,248.3 329.7,248.3 330.7,248.2 331.7,248.2 332.7,248.2 333.7,248.1 334.7,248.1 335.7,248.1 336.7,248.0 337.7,248.0 338.7,248.0 339.7,247.9 340.7,247.9 341.7,247.9 342.7,247.8 343.7,247.8 344.7,247.7" fill="none" stroke="#f03cf0" stroke-width="1.2" stroke-linejoin="round" />
<polyline points="205.7,252.9 206.7,252.8 207.7,252.8 208.7,252.7 209.7,252.7 210.7,252.7 211.7,252.6 212.7,252.6 213.7,252.5 214.7,252.5 215.7,252.4 216.7,252.4 217.7,252.4 218.7,252.3 219.7,252.3 220.7,252.2 221.7,252.2 222.7,252.1 223.7,252.1 224.7,252.0 225.7,252.0 226.7,252.0 227.7,251.9 228.7,251.9 229.7,251.8 230.7,251.8 231.7,251.7 232.7,251.7 233.7,251.6 234.7,251.5 235.7,251.5 236.7,251.4 237.7,251.4 238.7,251.3 239.7,251.3 240.7,251.2 241.7,251.1 242.7,251.1 243.7,251.0 244.7,250.9 245.7,250.8 246.7,250.7 247.7,250.6 248.7,250.5 249.7,250.4 250.7,250.3 251.7,250.2 252.7,250.1 253.7,249.9 254.7,249.7 255.7,249.5 256.7,249.2 257.7,248.9 258.7,248.4 259.7,247.7 260.7,246.7 261.7,245.4 262.7,243.6 263.7,241.2 264.7,238.1 265.7,234.3 266.7,229.7 267.7,224.4 268.7,218.7 269.7,212.9 270.7,207.4 271.7,202.9 272.7,199.9 273.7,199.0 274.7,200.3 275.7,203.5 276.7,208.2 277.7,213.7 278.7,219.5 279.7,225.0 280.7,230.1 281.7,234.5 282.7,238.1 283.7,241.0 284.7,243.2 285.7,244.8 286.7,246.0 287.7,246.8 288.7,247.4 289.7,247.7 290.7,248.0 291.7,248.2 292.7,248.3 293.7,248.4 294.7,248.5 295.7,248.6 296.7,248.6 297.7,248.7 298.7,248.7 299.7,248.7 300.7,248.7 301.7,248.8 302.7,248.8 303.7,248.8 304.7,248.8 305.7,248.8 306.7,248.8 307.7,248.7 308.7,248.7 309.7,248.7 310.7,248.7 311.7,248.7 312.7,248.7 313.7,248.6 314.7,248.6 315.7,248.6 316.7,248.6 317.7,248.6 318.7,248.5 319.7,248.5 320.7,248.5 321.7,248.5 322.7,248.4 323.7,248.4 324.7,248.4 325.7,248.3 326.7,248.3 327.7,248.3 328.7,248.3 329.7,248.2 330.7,248.2 331.7,248.2 332.7,248.1 333.7,248.1 334.7,248.1 335.7,248.0 336.7,248.0 337.7,248.0 338.7,247.9 339.7,247.9 340.7,247.9 341.7,247.8 342.7,247.8 343.7,247.8 344.7,247.7" fill="none" stroke="#12901a" stroke-width="1.2" stroke-linejoin="round" />
<polyline points="205.7,252.9 206.7,252.9 207.7,252.8 208.7,252.8 209.7,252.8 210.7,252.7 211.7,252.7 212.7,252.7 213.7,252.6 214.7,252.6 215.7,252.5 216.7,252.5 217.7,252.5 218.7,252.4 219.7,252.4 220.7,252.3 221.7,252.3 222.7,252.3 223.7,252.2 224.7,252.2 225.7,252.1 226.7,252.1 227.7,252.1 228.7,252.0 229.7,252.0 230.7,251.9 231.7,251.9 232.7,251.8 233.7,251.8 234.7,251.8 235.7,251.7 236.7,251.7 237.7,251.6 238.7,251.6 239.7,251.5 240.7,251.5 241.7,251.4 242.7,251.4 243.7,251.3 244.7,251.3 245.7,251.3 246.7,251.2 247.7,251.1 248.7,251.1 249.7,251.0 250.7,251.0 251.7,250.9 252.7,250.9 253.7,250.8 254.7,250.7 255.7,250.7 256.7,250.6 257.7,250.5 258.7,250.4 259.7,250.3 260.7,250.2 261.7,250.1 262.7,250.0 263.7,249.8 264.7,249.5 265.7,249.2 266.7,248.8 267.7,248.3 268.7,247.6 269.7,246.8 270.7,245.7 271.7,244.4 272.7,242.8 273.7,241.0 274.7,238.9 275.7,236.7 276.7,234.5 277.7,232.3 278.7,230.3 279.7,228.7 280.7,227.6 281.7,227.2 282.7,227.5 283.7,228.5 284.7,230.1 285.7,232.0 286.7,234.1 287.7,236.3 288.7,238.4 289.7,240.4 290.7,242.1 291.7,243.6 292.7,244.9 293.7,245.9 294.7,246.7 295.7,247.3 296.7,247.7 297.7,248.0 298.7,248.3 299.7,248.4 300.7,248.5 301.7,248.6 302.7,248.7 303.7,248.7 304.7,248.7 305.7,248.7 306.7,248.7 307.7,248.7 308.7,248.7 309.7,248.7 310.7,248.7 311.7,248.7 312.7,248.7 313.7,248.7 314.7,248.7 315.7,248.6 316.7,248.6 317.7,248.6 318.7,248.6 319.7,248.5 320.7,248.5 321.7,248.5 322.7,248.5 323.7,248.4 324.7,248.4 325.7,248.4 326.7,248.3 327.7,248.3 328.7,248.3 329.7,248.3 330.7,248.2 331.7,248.2 332.7,248.2 333.7,248.1 334.7,248.1 335.7,248.1 336.7,248.0 337.7,248.0 338.7,248.0 339.7,247.9 340.7,247.9 341.7,247.9 342.7,247.8 343.7,247.8 344.7,247.8" fill="none" stroke="#22229a" stroke-width="1.2" stroke-linejoin="round" />
<polyline points="205.7,253.0 206.7,252.9 207.7,252.9 208.7,252.9 209.7,252.8 210.7,252.8 211.7,252.7 212.7,252.7 213.7,252.7 214.7,252.6 215.7,252.6 216.7,252.6 217.7,252.5 218.7,252.5 219.7,252.4 220.7,252.4 221.7,252.4 222.7,252.3 223.7,252.3 224.7,252.3 225.7,252.2 226.7,252.2 227.7,252.1 228.7,252.1 229.7,252.1 230.7,252.0 231.7,252.0 232.7,252.0 233.7,251.9 234.7,251.9 235.7,251.8 236.7,251.8 237.7,251.8 238.7,251.7 239.7,251.7 240.7,251.7 241.7,251.6 242.7,251.6 243.7,251.5 244.7,251.5 245.7,251.5 246.7,251.4 247.7,251.4 248.7,251.3 249.7,251.3 250.7,251.3 251.7,251.2 252.7,251.2 253.7,251.2 254.7,251.1 255.7,251.1 256.7,251.0 257.7,251.0 258.7,251.0 259.7,250.9 260.7,250.9 261.7,250.8 262.7,250.8 263.7,250.8 264.7,250.7 265.7,250.7 266.7,250.6 267.7,250.6 268.7,250.6 269.7,250.5 270.7,250.5 271.7,250.4 272.7,250.4 273.7,250.4 274.7,250.3 275.7,250.3 276.7,250.2 277.7,250.2 278.7,250.1 279.7,250.1 280.7,250.0 281.7,250.0 282.7,249.9 283.7,249.9 284.7,249.8 285.7,249.8 286.7,249.7 287.7,249.7 288.7,249.6 289.7,249.5 290.7,249.4 291.7,249.3 292.7,249.2 293.7,249.0 294.7,248.8 295.7,248.6 296.7,248.3 297.7,247.9 298.7,247.5 299.7,247.0 300.7,246.5 301.7,245.9 302.7,245.2 303.7,244.4 304.7,243.7 305.7,242.9 306.7,242.2 307.7,241.5 308.7,241.0 309.7,240.7 310.7,240.5 311.7,240.5 312.7,240.8 313.7,241.2 314.7,241.8 315.7,242.4 316.7,243.1 317.7,243.8 318.7,244.4 319.7,245.1 320.7,245.6 321.7,246.1 322.7,246.6 323.7,246.9 324.7,247.2 325.7,247.4 326.7,247.6 327.7,247.7 328.7,247.8 329.7,247.9 330.7,247.9 331.7,247.9 332.7,247.9 333.7,247.9 334.7,247.9 335.7,247.9 336.7,247.9 337.7,247.9 338.7,247.9 339.7,247.8 340.7,247.8 341.7,247.8 342.7,247.8 343.7,247.7 344.7,247.7" fill="none" stroke="#9b30f0" stroke-width="1.2" stroke-linejoin="round" />
<polyline points="205.7,251.5 206.7,251.3 207.7,251.2 208.7,251.1 209.7,251.0 210.7,250.9 211.7,250.8 212.7,250.8 213.7,250.8 214.7,250.7 215.7,250.8 216.7,250.8 217.7,250.8 218.7,250.8 219.7,250.9 220.7,250.9 221.7,251.0 222.7,251.0 223.7,251.0 224.7,251.0 225.7,251.0 226.7,251.0 227.7,251.0 228.7,250.9 229.7,250.9 230.7,250.8 231.7,250.6 232.7,250.5 233.7,250.3 234.7,250.1 235.7,249.9 236.7,249.6 237.7,249.4 238.7,249.0 239.7,248.7 240.7,248.3 241.7,247.9 242.7,247.4 243.7,247.0 244.7,246.5 245.7,245.9 246.7,245.4 247.7,244.8 248.7,244.1 249.7,243.4 250.7,242.5 251.7,241.5 252.7,240.2 253.7,238.5 254.7,236.3 255.7,233.5 256.7,229.9 257.7,225.4 258.7,220.1 259.7,213.8 260.7,206.8 261.7,199.3 262.7,191.8 263.7,184.6 264.7,178.3 265.7,173.3 266.7,169.8 267.7,167.6 268.7,166.3 269.7,165.6 270.7,165.3 271.7,165.5 272.7,166.7 273.7,168.9 274.7,172.5 275.7,177.1 276.7,182.3 277.7,187.9 278.7,193.3 279.7,198.6 280.7,203.6 281.7,208.3 282.7,212.8 283.7,217.2 284.7,221.2 285.7,225.0 286.7,228.5 287.7,231.7 288.7,234.5 289.7,236.9 290.7,239.0 291.7,240.7 292.7,242.1 293.7,243.2 294.7,244.0 295.7,244.5 296.7,244.8 297.7,245.0 298.7,244.9 299.7,244.7 300.7,244.4 301.7,243.9 302.7,243.4 303.7,242.8 304.7,242.1 305.7,241.5 306.7,240.9 307.7,240.3 308.7,239.8 309.7,239.5 310.7,239.4 311.7,239.5 312.7,239.8 313.7,240.3 314.7,240.9 315.7,241.6 316.7,242.3 317.7,243.0 318.7,243.7 319.7,244.4 320.7,245.0 321.7,245.5 322.7,246.0 323.7,246.3 324.7,246.6 325.7,246.9 326.7,247.1 327.7,247.2 328.7,247.3 329.7,247.4 330.7,247.5 331.7,247.5 332.7,247.5 333.7,247.5 334.7,247.6 335.7,247.6 336.7,247.5 337.7,247.5 338.7,247.5 339.7,247.5 340.7,247.5 341.7,247.5 342.7,247.5 343.7,247.4 344.7,247.4" fill="none" stroke="#e3141b" stroke-width="1.8" stroke-linejoin="round" />
</g>
<rect x="205.2" y="155.6" width="140.60000000000002" height="113.70000000000002" fill="none" stroke="#4a4a4a" stroke-width="1"/>
<line x1="214.57" y1="269.3" x2="214.57" y2="271.6" stroke="#333" stroke-width="0.9"/>
<line x1="223.95" y1="269.3" x2="223.95" y2="271.1" stroke="#333" stroke-width="0.9"/>
<line x1="233.32" y1="269.3" x2="233.32" y2="271.6" stroke="#333" stroke-width="0.9"/>
<line x1="242.69" y1="269.3" x2="242.69" y2="271.1" stroke="#333" stroke-width="0.9"/>
<line x1="252.07" y1="269.3" x2="252.07" y2="271.6" stroke="#333" stroke-width="0.9"/>
<line x1="261.44" y1="269.3" x2="261.44" y2="271.1" stroke="#333" stroke-width="0.9"/>
<line x1="270.81" y1="269.3" x2="270.81" y2="271.6" stroke="#333" stroke-width="0.9"/>
<line x1="280.19" y1="269.3" x2="280.19" y2="271.1" stroke="#333" stroke-width="0.9"/>
<line x1="289.56" y1="269.3" x2="289.56" y2="271.6" stroke="#333" stroke-width="0.9"/>
<line x1="298.93" y1="269.3" x2="298.93" y2="271.1" stroke="#333" stroke-width="0.9"/>
<line x1="308.31" y1="269.3" x2="308.31" y2="271.6" stroke="#333" stroke-width="0.9"/>
<line x1="317.68" y1="269.3" x2="317.68" y2="271.1" stroke="#333" stroke-width="0.9"/>
<line x1="327.05" y1="269.3" x2="327.05" y2="271.6" stroke="#333" stroke-width="0.9"/>
<line x1="336.43" y1="269.3" x2="336.43" y2="271.1" stroke="#333" stroke-width="0.9"/>
<text transform="matrix(0.84391 0 0 0.93767 208.20 279.81)" fill="#000" stroke="#000" stroke-width="0.4490">526</text>
<text transform="matrix(0.84024 0 0 0.93360 226.99 279.81)" fill="#000" stroke="#000" stroke-width="0.4510">528</text>
<text transform="matrix(0.84024 0 0 0.93360 245.76 279.81)" fill="#000" stroke="#000" stroke-width="0.4510">530</text>
<text transform="matrix(0.84391 0 0 0.93767 264.50 279.81)" fill="#000" stroke="#000" stroke-width="0.4490">532</text>
<text transform="matrix(0.84391 0 0 0.93767 283.14 279.81)" fill="#000" stroke="#000" stroke-width="0.4490">534</text>
<text transform="matrix(0.84391 0 0 0.93767 301.93 279.81)" fill="#000" stroke="#000" stroke-width="0.4490">536</text>
<text transform="matrix(0.84024 0 0 0.93360 320.72 279.81)" fill="#000" stroke="#000" stroke-width="0.4510">538</text>
<text transform="matrix(0.84024 0 0 0.93360 339.49 279.81)" fill="#000" stroke="#000" stroke-width="0.4510">540</text>
<text transform="matrix(0.98761 0 0 0.80372 206.73 170.12)" fill="#000" stroke="#000" stroke-width="0.4466">rGO</text>
<text transform="matrix(0.94118 0 0 0.92279 206.54 181.71)" fill="#000" stroke="#000" stroke-width="0.4292">O1s</text>
<text transform="matrix(1.71237 0 0 1.34548 320.85 168.74)" fill="#000" stroke="#000" stroke-width="0.2616">(e)</text>
<text transform="matrix(0.92178 0 0 0.88722 233.63 190.87)" fill="#f03cf0" stroke="#f03cf0" stroke-width="0.4422">531.4</text>
<text transform="matrix(0.99275 0 0 0.99073 282.90 188.86)" fill="#12901a" stroke="#12901a" stroke-width="0.4033">532.3</text>
<text transform="matrix(0.91280 0 0 1.06466 287.53 215.85)" fill="#22229a" stroke="#22229a" stroke-width="0.4046">533.1</text>
<text transform="matrix(0.86865 0 0 1.07945 310.45 228.55)" fill="#22229a" stroke="#22229a" stroke-width="0.4107">536.3</text>
<text transform="matrix(0.86664 0 0 0.83101 238.66 291.17)" fill="#000" stroke="#000" stroke-width="0.4712">Binding energy (eV)</text>
<text transform="matrix(0 -0.97250 0.72554 0 196.03 242.33)" fill="#000" stroke="#000" stroke-width="0.4711">Intensity (a.u)</text>
<line x1="255.6" y1="190.4" x2="265.5" y2="195.8" stroke="#000" stroke-width="0.8"/>
<line x1="283.3" y1="187.7" x2="275.2" y2="198" stroke="#12901a" stroke-width="0.8"/>
<line x1="288.7" y1="214.7" x2="282.5" y2="226" stroke="#22229a" stroke-width="0.8"/>
<line x1="313.5" y1="228.7" x2="311.4" y2="239" stroke="#000" stroke-width="0.8"/>
<clipPath id="cpf"><rect x="395.2" y="153.2" width="140.59999999999997" height="113.40000000000003"/></clipPath>
<g clip-path="url(#cpf)">
<polyline points="395.7,255.7 396.7,255.7 397.7,255.6 398.7,255.6 399.7,255.6 400.7,255.6 401.7,255.5 402.7,255.5 403.7,255.5 404.7,255.5 405.7,255.5 406.7,255.4 407.7,255.4 408.7,255.4 409.7,255.4 410.7,255.3 411.7,255.3 412.7,255.3 413.7,255.3 414.7,255.2 415.7,255.2 416.7,255.2 417.7,255.2 418.7,255.1 419.7,255.1 420.7,255.1 421.7,255.1 422.7,255.1 423.7,255.0 424.7,255.0 425.7,255.0 426.7,255.0 427.7,254.9 428.7,254.9 429.7,254.9 430.7,254.9 431.7,254.8 432.7,254.8 433.7,254.8 434.7,254.8 435.7,254.7 436.7,254.7 437.7,254.7 438.7,254.7 439.7,254.7 440.7,254.6 441.7,254.6 442.7,254.6 443.7,254.6 444.7,254.5 445.7,254.5 446.7,254.5 447.7,254.5 448.7,254.4 449.7,254.4 450.7,254.4 451.7,254.4 452.7,254.4 453.7,254.3 454.7,254.3 455.7,254.3 456.7,254.3 457.7,254.2 458.7,254.2 459.7,254.2 460.7,254.2 461.7,254.1 462.7,254.1 463.7,254.1 464.7,254.1 465.7,254.0 466.7,254.0 467.7,254.0 468.7,254.0 469.7,254.0 470.7,253.9 471.7,253.9 472.7,253.9 473.7,253.9 474.7,253.8 475.7,253.8 476.7,253.8 477.7,253.8 478.7,253.7 479.7,253.7 480.7,253.7 481.7,253.7 482.7,253.6 483.7,253.6 484.7,253.6 485.7,253.6 486.7,253.6 487.7,253.5 488.7,253.5 489.7,253.5 490.7,253.5 491.7,253.4 492.7,253.4 493.7,253.4 494.7,253.4 495.7,253.3 496.7,253.3 497.7,253.3 498.7,253.3 499.7,253.2 500.7,253.2 501.7,253.2 502.7,253.2 503.7,253.2 504.7,253.1 505.7,253.1 506.7,253.1 507.7,253.1 508.7,253.0 509.7,253.0 510.7,253.0 511.7,253.0 512.7,252.9 513.7,252.9 514.7,252.9 515.7,252.9 516.7,252.8 517.7,252.8 518.7,252.8 519.7,252.8 520.7,252.8 521.7,252.7 522.7,252.7 523.7,252.7 524.7,252.7 525.7,252.6 526.7,252.6 527.7,252.6 528.7,252.6 529.7,252.5 530.7,252.5 531.7,252.5 532.7,252.5 533.7,252.4 534.7,252.4" fill="none" stroke="#22229a" stroke-width="1.2" stroke-linejoin="round" />
<polyline points="395.7,254.0 396.7,254.1 397.7,254.0 398.7,254.5 399.7,253.5 400.7,254.5 401.7,254.0 402.7,254.9 403.7,254.9 404.7,255.0 405.7,254.7 406.7,254.2 407.7,254.6 408.7,254.8 409.7,253.7 410.7,254.2 411.7,253.8 412.7,254.5 413.7,253.3 414.7,253.4 415.7,253.7 416.7,253.5 417.7,252.5 418.7,253.4 419.7,253.0 420.7,252.8 421.7,252.7 422.7,252.8 423.7,251.6 424.7,253.2 425.7,251.8 426.7,250.9 427.7,251.8 428.7,252.3 429.7,251.1 430.7,251.8 431.7,251.5 432.7,249.8 433.7,248.6 434.7,248.6 435.7,249.2 436.7,247.4 437.7,246.1 438.7,245.1 439.7,244.4 440.7,242.8 441.7,241.4 442.7,239.4 443.7,235.9 444.7,233.5 445.7,229.9 446.7,226.9 447.7,222.4 448.7,218.2 449.7,215.2 450.7,209.3 451.7,204.6 452.7,200.3 453.7,194.1 454.7,188.5 455.7,183.6 456.7,178.5 457.7,175.3 458.7,171.3 459.7,170.0 460.7,167.8 461.7,167.5 462.7,167.6 463.7,168.5 464.7,168.7 465.7,170.0 466.7,170.0 467.7,171.8 468.7,174.5 469.7,176.0 470.7,180.1 471.7,185.3 472.7,190.2 473.7,195.3 474.7,200.3 475.7,208.2 476.7,212.7 477.7,218.4 478.7,222.5 479.7,228.2 480.7,231.5 481.7,234.8 482.7,237.3 483.7,240.5 484.7,242.1 485.7,243.9 486.7,244.5 487.7,246.2 488.7,247.3 489.7,247.3 490.7,248.5 491.7,249.2 492.7,249.1 493.7,249.2 494.7,249.5 495.7,250.5 496.7,249.4 497.7,250.2 498.7,250.3 499.7,250.7 500.7,250.7 501.7,250.2 502.7,251.9 503.7,251.1 504.7,250.4 505.7,250.7 506.7,251.2 507.7,251.5 508.7,250.6 509.7,251.7 510.7,250.7 511.7,251.0 512.7,251.9 513.7,252.3 514.7,251.5 515.7,251.4 516.7,252.2 517.7,251.1 518.7,251.7 519.7,251.7 520.7,252.1 521.7,251.8 522.7,251.5 523.7,252.0 524.7,251.1 525.7,252.1 526.7,251.4 527.7,251.2 528.7,251.5 529.7,251.7 530.7,252.1 531.7,251.6 532.7,252.1 533.7,252.2 534.7,251.6" fill="none" stroke="#111" stroke-width="1.1" stroke-linejoin="round" />
<polyline points="395.7,255.5 396.7,255.4 397.7,255.4 398.7,255.4 399.7,255.3 400.7,255.3 401.7,255.3 402.7,255.2 403.7,255.2 404.7,255.2 405.7,255.1 406.7,255.1 407.7,255.1 408.7,255.0 409.7,255.0 410.7,255.0 411.7,254.9 412.7,254.9 413.7,254.8 414.7,254.8 415.7,254.7 416.7,254.7 417.7,254.6 418.7,254.6 419.7,254.5 420.7,254.5 421.7,254.4 422.7,254.4 423.7,254.3 424.7,254.2 425.7,254.2 426.7,254.1 427.7,254.0 428.7,253.9 429.7,253.8 430.7,253.7 431.7,253.6 432.7,253.5 433.7,253.3 434.7,253.2 435.7,253.0 436.7,252.8 437.7,252.5 438.7,252.2 439.7,251.9 440.7,251.4 441.7,250.8 442.7,249.9 443.7,248.9 444.7,247.5 445.7,245.7 446.7,243.4 447.7,240.7 448.7,237.5 449.7,233.7 450.7,229.6 451.7,225.2 452.7,220.8 453.7,216.8 454.7,213.6 455.7,211.7 456.7,211.3 457.7,212.6 458.7,215.3 459.7,219.0 460.7,223.2 461.7,227.6 462.7,231.8 463.7,235.7 464.7,239.1 465.7,242.0 466.7,244.4 467.7,246.3 468.7,247.8 469.7,248.9 470.7,249.8 471.7,250.4 472.7,250.9 473.7,251.3 474.7,251.6 475.7,251.8 476.7,252.0 477.7,252.1 478.7,252.2 479.7,252.3 480.7,252.4 481.7,252.5 482.7,252.5 483.7,252.6 484.7,252.6 485.7,252.7 486.7,252.7 487.7,252.7 488.7,252.8 489.7,252.8 490.7,252.8 491.7,252.8 492.7,252.8 493.7,252.8 494.7,252.8 495.7,252.8 496.7,252.8 497.7,252.8 498.7,252.8 499.7,252.8 500.7,252.8 501.7,252.8 502.7,252.8 503.7,252.8 504.7,252.8 505.7,252.8 506.7,252.8 507.7,252.8 508.7,252.7 509.7,252.7 510.7,252.7 511.7,252.7 512.7,252.7 513.7,252.7 514.7,252.7 515.7,252.6 516.7,252.6 517.7,252.6 518.7,252.6 519.7,252.6 520.7,252.6 521.7,252.5 522.7,252.5 523.7,252.5 524.7,252.5 525.7,252.5 526.7,252.4 527.7,252.4 528.7,252.4 529.7,252.4 530.7,252.4 531.7,252.4 532.7,252.3 533.7,252.3 534.7,252.3" fill="none" stroke="#12901a" stroke-width="1.2" stroke-linejoin="round" />
<polyline points="395.7,255.6 396.7,255.5 397.7,255.5 398.7,255.5 399.7,255.5 400.7,255.4 401.7,255.4 402.7,255.4 403.7,255.4 404.7,255.3 405.7,255.3 406.7,255.3 407.7,255.2 408.7,255.2 409.7,255.2 410.7,255.1 411.7,255.1 412.7,255.1 413.7,255.0 414.7,255.0 415.7,255.0 416.7,254.9 417.7,254.9 418.7,254.9 419.7,254.8 420.7,254.8 421.7,254.8 422.7,254.7 423.7,254.7 424.7,254.6 425.7,254.6 426.7,254.6 427.7,254.5 428.7,254.5 429.7,254.4 430.7,254.4 431.7,254.3 432.7,254.2 433.7,254.2 434.7,254.1 435.7,254.0 436.7,254.0 437.7,253.9 438.7,253.8 439.7,253.7 440.7,253.6 441.7,253.4 442.7,253.3 443.7,253.1 444.7,252.9 445.7,252.7 446.7,252.5 447.7,252.2 448.7,251.8 449.7,251.3 450.7,250.6 451.7,249.5 452.7,248.0 453.7,245.7 454.7,242.4 455.7,237.9 456.7,231.9 457.7,224.7 458.7,216.6 459.7,208.5 460.7,201.8 461.7,198.3 462.7,199.2 463.7,204.1 464.7,211.5 465.7,219.7 466.7,227.5 467.7,234.2 468.7,239.5 469.7,243.5 470.7,246.3 471.7,248.2 472.7,249.5 473.7,250.3 474.7,250.9 475.7,251.3 476.7,251.6 477.7,251.8 478.7,252.0 479.7,252.2 480.7,252.3 481.7,252.4 482.7,252.5 483.7,252.6 484.7,252.6 485.7,252.7 486.7,252.7 487.7,252.8 488.7,252.8 489.7,252.8 490.7,252.9 491.7,252.9 492.7,252.9 493.7,252.9 494.7,252.9 495.7,252.9 496.7,252.9 497.7,252.9 498.7,252.9 499.7,252.9 500.7,252.9 501.7,252.9 502.7,252.9 503.7,252.9 504.7,252.9 505.7,252.8 506.7,252.8 507.7,252.8 508.7,252.8 509.7,252.8 510.7,252.8 511.7,252.8 512.7,252.7 513.7,252.7 514.7,252.7 515.7,252.7 516.7,252.7 517.7,252.7 518.7,252.6 519.7,252.6 520.7,252.6 521.7,252.6 522.7,252.6 523.7,252.6 524.7,252.5 525.7,252.5 526.7,252.5 527.7,252.5 528.7,252.5 529.7,252.4 530.7,252.4 531.7,252.4 532.7,252.4 533.7,252.4 534.7,252.3" fill="none" stroke="#f03cf0" stroke-width="1.2" stroke-linejoin="round" />
<polyline points="395.7,255.6 396.7,255.6 397.7,255.5 398.7,255.5 399.7,255.5 400.7,255.5 401.7,255.4 402.7,255.4 403.7,255.4 404.7,255.3 405.7,255.3 406.7,255.3 407.7,255.3 408.7,255.2 409.7,255.2 410.7,255.2 411.7,255.1 412.7,255.1 413.7,255.1 414.7,255.1 415.7,255.0 416.7,255.0 417.7,255.0 418.7,254.9 419.7,254.9 420.7,254.9 421.7,254.8 422.7,254.8 423.7,254.8 424.7,254.7 425.7,254.7 426.7,254.6 427.7,254.6 428.7,254.6 429.7,254.5 430.7,254.5 431.7,254.4 432.7,254.4 433.7,254.3 434.7,254.3 435.7,254.2 436.7,254.2 437.7,254.1 438.7,254.1 439.7,254.0 440.7,253.9 441.7,253.9 442.7,253.8 443.7,253.7 444.7,253.6 445.7,253.5 446.7,253.4 447.7,253.3 448.7,253.1 449.7,253.0 450.7,252.8 451.7,252.6 452.7,252.4 453.7,252.1 454.7,251.7 455.7,251.2 456.7,250.5 457.7,249.5 458.7,248.2 459.7,246.2 460.7,243.5 461.7,239.9 462.7,235.3 463.7,229.7 464.7,223.4 465.7,216.7 466.7,210.6 467.7,205.9 468.7,204.0 469.7,205.3 470.7,209.4 471.7,215.3 472.7,221.9 473.7,228.2 474.7,234.0 475.7,238.7 476.7,242.5 477.7,245.3 478.7,247.4 479.7,248.8 480.7,249.8 481.7,250.5 482.7,250.9 483.7,251.3 484.7,251.5 485.7,251.8 486.7,251.9 487.7,252.1 488.7,252.2 489.7,252.3 490.7,252.3 491.7,252.4 492.7,252.5 493.7,252.5 494.7,252.6 495.7,252.6 496.7,252.6 497.7,252.6 498.7,252.7 499.7,252.7 500.7,252.7 501.7,252.7 502.7,252.7 503.7,252.7 504.7,252.7 505.7,252.7 506.7,252.7 507.7,252.7 508.7,252.7 509.7,252.7 510.7,252.7 511.7,252.7 512.7,252.7 513.7,252.6 514.7,252.6 515.7,252.6 516.7,252.6 517.7,252.6 518.7,252.6 519.7,252.6 520.7,252.5 521.7,252.5 522.7,252.5 523.7,252.5 524.7,252.5 525.7,252.5 526.7,252.4 527.7,252.4 528.7,252.4 529.7,252.4 530.7,252.4 531.7,252.4 532.7,252.3 533.7,252.3 534.7,252.3" fill="none" stroke="#22229a" stroke-width="1.2" stroke-linejoin="round" />
<polyline points="395.7,255.6 396.7,255.6 397.7,255.6 398.7,255.5 399.7,255.5 400.7,255.5 401.7,255.4 402.7,255.4 403.7,255.4 404.7,255.4 405.7,255.3 406.7,255.3 407.7,255.3 408.7,255.3 409.7,255.2 410.7,255.2 411.7,255.2 412.7,255.2 413.7,255.1 414.7,255.1 415.7,255.1 416.7,255.0 417.7,255.0 418.7,255.0 419.7,255.0 420.7,254.9 421.7,254.9 422.7,254.9 423.7,254.8 424.7,254.8 425.7,254.8 426.7,254.7 427.7,254.7 428.7,254.7 429.7,254.6 430.7,254.6 431.7,254.6 432.7,254.5 433.7,254.5 434.7,254.4 435.7,254.4 436.7,254.4 437.7,254.3 438.7,254.3 439.7,254.2 440.7,254.2 441.7,254.1 442.7,254.1 443.7,254.0 444.7,254.0 445.7,253.9 446.7,253.9 447.7,253.8 448.7,253.7 449.7,253.6 450.7,253.6 451.7,253.5 452.7,253.4 453.7,253.2 454.7,253.1 455.7,253.0 456.7,252.8 457.7,252.6 458.7,252.4 459.7,252.1 460.7,251.7 461.7,251.2 462.7,250.6 463.7,249.7 464.7,248.5 465.7,246.9 466.7,245.0 467.7,242.5 468.7,239.6 469.7,236.3 470.7,232.6 471.7,228.8 472.7,225.2 473.7,222.3 474.7,220.3 475.7,219.8 476.7,220.9 477.7,223.2 478.7,226.5 479.7,230.1 480.7,233.8 481.7,237.3 482.7,240.5 483.7,243.2 484.7,245.4 485.7,247.1 486.7,248.5 487.7,249.5 488.7,250.2 489.7,250.8 490.7,251.2 491.7,251.5 492.7,251.7 493.7,251.9 494.7,252.0 495.7,252.1 496.7,252.2 497.7,252.3 498.7,252.3 499.7,252.4 500.7,252.4 501.7,252.4 502.7,252.5 503.7,252.5 504.7,252.5 505.7,252.5 506.7,252.5 507.7,252.5 508.7,252.6 509.7,252.6 510.7,252.6 511.7,252.6 512.7,252.6 513.7,252.6 514.7,252.5 515.7,252.5 516.7,252.5 517.7,252.5 518.7,252.5 519.7,252.5 520.7,252.5 521.7,252.5 522.7,252.5 523.7,252.5 524.7,252.4 525.7,252.4 526.7,252.4 527.7,252.4 528.7,252.4 529.7,252.4 530.7,252.3 531.7,252.3 532.7,252.3 533.7,252.3 534.7,252.3" fill="none" stroke="#9b30f0" stroke-width="1.2" stroke-linejoin="round" />
<polyline points="395.7,254.8 396.7,254.8 397.7,254.7 398.7,254.7 399.7,254.6 400.7,254.6 401.7,254.5 402.7,254.5 403.7,254.4 404.7,254.3 405.7,254.3 406.7,254.2 407.7,254.1 408.7,254.1 409.7,254.0 410.7,253.9 411.7,253.8 412.7,253.8 413.7,253.7 414.7,253.6 415.7,253.5 416.7,253.4 417.7,253.3 418.7,253.2 419.7,253.1 420.7,253.0 421.7,252.8 422.7,252.7 423.7,252.5 424.7,252.4 425.7,252.2 426.7,252.0 427.7,251.8 428.7,251.6 429.7,251.3 430.7,251.0 431.7,250.7 432.7,250.3 433.7,249.8 434.7,249.2 435.7,248.6 436.7,247.8 437.7,246.8 438.7,245.7 439.7,244.4 440.7,242.8 441.7,241.0 442.7,238.9 443.7,236.4 444.7,233.6 445.7,230.4 446.7,226.9 447.7,223.0 448.7,218.8 449.7,214.2 450.7,209.3 451.7,204.2 452.7,199.0 453.7,193.7 454.7,188.5 455.7,183.5 456.7,178.8 457.7,174.6 458.7,171.1 459.7,168.2 460.7,166.3 461.7,165.1 462.7,164.9 463.7,165.4 464.7,166.6 465.7,168.3 466.7,170.5 467.7,173.0 468.7,175.9 469.7,179.1 470.7,182.7 471.7,186.7 472.7,191.3 473.7,196.2 474.7,201.6 475.7,207.1 476.7,212.5 477.7,217.8 478.7,222.8 479.7,227.3 480.7,231.3 481.7,234.8 482.7,237.8 483.7,240.3 484.7,242.3 485.7,244.0 486.7,245.3 487.7,246.4 488.7,247.3 489.7,247.9 490.7,248.5 491.7,248.9 492.7,249.2 493.7,249.5 494.7,249.8 495.7,250.0 496.7,250.2 497.7,250.3 498.7,250.5 499.7,250.6 500.7,250.7 501.7,250.8 502.7,250.9 503.7,251.0 504.7,251.1 505.7,251.1 506.7,251.2 507.7,251.2 508.7,251.3 509.7,251.3 510.7,251.4 511.7,251.4 512.7,251.5 513.7,251.5 514.7,251.5 515.7,251.5 516.7,251.6 517.7,251.6 518.7,251.6 519.7,251.6 520.7,251.6 521.7,251.7 522.7,251.7 523.7,251.7 524.7,251.7 525.7,251.7 526.7,251.7 527.7,251.7 528.7,251.7 529.7,251.7 530.7,251.7 531.7,251.7 532.7,251.7 533.7,251.7 534.7,251.7" fill="none" stroke="#e3141b" stroke-width="1.8" stroke-linejoin="round" />
</g>
<rect x="395.2" y="153.2" width="140.59999999999997" height="113.40000000000003" fill="none" stroke="#4a4a4a" stroke-width="1"/>
<line x1="404.57" y1="266.6" x2="404.57" y2="268.90000000000003" stroke="#333" stroke-width="0.9"/>
<line x1="413.95" y1="266.6" x2="413.95" y2="268.40000000000003" stroke="#333" stroke-width="0.9"/>
<line x1="423.32" y1="266.6" x2="423.32" y2="268.90000000000003" stroke="#333" stroke-width="0.9"/>
<line x1="432.69" y1="266.6" x2="432.69" y2="268.40000000000003" stroke="#333" stroke-width="0.9"/>
<line x1="442.07" y1="266.6" x2="442.07" y2="268.90000000000003" stroke="#333" stroke-width="0.9"/>
<line x1="451.44" y1="266.6" x2="451.44" y2="268.40000000000003" stroke="#333" stroke-width="0.9"/>
<line x1="460.81" y1="266.6" x2="460.81" y2="268.90000000000003" stroke="#333" stroke-width="0.9"/>
<line x1="470.19" y1="266.6" x2="470.19" y2="268.40000000000003" stroke="#333" stroke-width="0.9"/>
<line x1="479.56" y1="266.6" x2="479.56" y2="268.90000000000003" stroke="#333" stroke-width="0.9"/>
<line x1="488.93" y1="266.6" x2="488.93" y2="268.40000000000003" stroke="#333" stroke-width="0.9"/>
<line x1="498.31" y1="266.6" x2="498.31" y2="268.90000000000003" stroke="#333" stroke-width="0.9"/>
<line x1="507.68" y1="266.6" x2="507.68" y2="268.40000000000003" stroke="#333" stroke-width="0.9"/>
<line x1="517.05" y1="266.6" x2="517.05" y2="268.90000000000003" stroke="#333" stroke-width="0.9"/>
<line x1="526.43" y1="266.6" x2="526.43" y2="268.40000000000003" stroke="#333" stroke-width="0.9"/>
<text transform="matrix(0.79896 0 0 0.90791 398.54 277.21)" fill="#000" stroke="#000" stroke-width="0.4687">526</text>
<text transform="matrix(0.79549 0 0 0.90397 417.33 277.21)" fill="#000" stroke="#000" stroke-width="0.4707">528</text>
<text transform="matrix(0.79549 0 0 0.90397 436.09 277.21)" fill="#000" stroke="#000" stroke-width="0.4707">530</text>
<text transform="matrix(0.79896 0 0 0.90791 454.83 277.21)" fill="#000" stroke="#000" stroke-width="0.4687">532</text>
<text transform="matrix(0.79896 0 0 0.90791 473.48 277.21)" fill="#000" stroke="#000" stroke-width="0.4687">534</text>
<text transform="matrix(0.79896 0 0 0.90791 492.27 277.21)" fill="#000" stroke="#000" stroke-width="0.4687">536</text>
<text transform="matrix(0.79549 0 0 0.90397 511.06 277.21)" fill="#000" stroke="#000" stroke-width="0.4707">538</text>
<text transform="matrix(0.79549 0 0 0.90397 529.83 277.21)" fill="#000" stroke="#000" stroke-width="0.4707">540</text>
<text transform="matrix(0.86997 0 0 0.91547 398.25 162.86)" fill="#000" stroke="#000" stroke-width="0.4481">PVAc/rGO-PDDA</text>
<text transform="matrix(0.91608 0 0 0.87814 397.95 174.71)" fill="#000" stroke="#000" stroke-width="0.4459">O1s</text>
<text transform="matrix(1.77801 0 0 1.48311 509.42 168.44)" fill="#000" stroke="#000" stroke-width="0.2453">(f)</text>
<text transform="matrix(0.92945 0 0 0.91679 429.03 202.47)" fill="#12901a" stroke="#12901a" stroke-width="0.4333">531.5</text>
<text transform="matrix(0.93217 0 0 0.99073 474.83 182.16)" fill="#f03cf0" stroke="#f03cf0" stroke-width="0.4160">532.2</text>
<text transform="matrix(0.95684 0 0 1.00552 478.32 195.66)" fill="#22229a" stroke="#22229a" stroke-width="0.4077">532.9</text>
<text transform="matrix(0.92632 0 0 0.99073 482.93 213.16)" fill="#9b30f0" stroke="#9b30f0" stroke-width="0.4173">533.6</text>
<text transform="matrix(0.87015 0 0 0.87475 428.46 288.07)" fill="#000" stroke="#000" stroke-width="0.4585">Binding energy (eV)</text>
<text transform="matrix(0 -0.93367 0.75852 0 385.16 239.11)" fill="#000" stroke="#000" stroke-width="0.4728">Intensity (a.u)</text>
<line x1="448.3" y1="203.9" x2="456.3" y2="212" stroke="#12901a" stroke-width="0.8"/>
<line x1="475.2" y1="181.8" x2="463.6" y2="198" stroke="#f03cf0" stroke-width="0.8"/>
<line x1="479.8" y1="195.8" x2="469.8" y2="205.3" stroke="#22229a" stroke-width="0.8"/>
<line x1="483.3" y1="210.6" x2="475.2" y2="220.6" stroke="#9b30f0" stroke-width="0.8"/>
<clipPath id="cpg"><rect x="24.4" y="300.5" width="140.2" height="112.30000000000001"/></clipPath>
<g clip-path="url(#cpg)">
<polyline points="24.9,363.1 26.3,363.3 27.7,363.4 29.1,363.5 30.5,363.7 31.9,363.9 33.3,364.0 34.7,364.2 36.1,364.5 37.5,364.7 38.9,365.0 40.3,365.3 41.7,365.6 43.1,365.9 44.5,366.3 45.9,366.7 47.3,367.1 48.7,367.5 50.1,368.0 51.5,368.5 52.9,369.0 54.3,369.5 55.7,370.1 57.1,370.7 58.5,371.3 59.9,372.0 61.3,372.7 62.7,373.4 64.1,374.1 65.5,374.8 66.9,375.5 68.3,376.3 69.7,377.0 71.1,377.8 72.5,378.5 73.9,379.3 75.3,380.0 76.7,380.7 78.1,381.4 79.5,382.1 80.9,382.7 82.3,383.3 83.7,383.9 85.1,384.4 86.5,384.9 87.9,385.4 89.3,385.7 90.7,386.1 92.1,386.3 93.5,386.5 94.9,386.7 96.3,386.8 97.7,386.8 99.1,386.8 100.5,386.7 101.9,386.5 103.3,386.3 104.7,386.0 106.1,385.7 107.5,385.3 108.9,384.9 110.3,384.4 111.7,383.9 113.1,383.3 114.5,382.7 115.9,382.1 117.3,381.4 118.7,380.8 120.1,380.1 121.5,379.4 122.9,378.7 124.3,378.0 125.7,377.3 127.1,376.6 128.5,375.9 129.9,375.3 131.3,374.6 132.7,373.9 134.1,373.3 135.5,372.7 136.9,372.1 138.3,371.6 139.7,371.1 141.1,370.6 142.5,370.1 143.9,369.6 145.3,369.2 146.7,368.8 148.1,368.5 149.5,368.1 150.9,367.8 152.3,367.5 153.7,367.3 155.1,367.1 156.5,366.8 157.9,366.6 159.3,366.5 160.7,366.3 162.1,366.2 163.5,366.1" fill="none" stroke="#22229a" stroke-width="1.2" stroke-linejoin="round" />
<polyline points="24.9,369.1 26.3,347.5 27.7,371.3 29.1,371.4 30.5,363.3 31.9,362.5 33.3,362.8 34.7,361.5 36.1,354.0 37.5,364.9 38.9,365.5 40.3,349.5 41.7,389.9 43.1,366.1 44.5,378.4 45.9,366.8 47.3,355.7 48.7,353.6 50.1,345.0 51.5,370.2 52.9,368.2 54.3,374.4 55.7,375.4 57.1,366.7 58.5,346.4 59.9,359.3 61.3,365.1 62.7,353.1 64.1,384.1 65.5,351.2 66.9,365.4 68.3,356.3 69.7,359.6 71.1,367.3 72.5,372.9 73.9,381.6 75.3,369.1 76.7,367.1 78.1,355.2 79.5,370.9 80.9,370.5 82.3,368.4 83.7,345.3 85.1,350.9 86.5,342.6 87.9,328.0 89.3,333.9 90.7,318.4 92.1,335.1 93.5,356.4 94.9,346.3 96.3,334.2 97.7,346.2 99.1,345.7 100.5,337.9 101.9,327.5 103.3,319.6 104.7,327.1 106.1,322.3 107.5,347.7 108.9,336.5 110.3,344.3 111.7,352.5 113.1,383.2 114.5,376.0 115.9,367.3 117.3,358.4 118.7,349.7 120.1,366.9 121.5,368.1 122.9,366.5 124.3,373.0 125.7,363.2 127.1,354.1 128.5,380.7 129.9,373.3 131.3,371.1 132.7,385.1 134.1,376.7 135.5,366.0 136.9,365.7 138.3,362.6 139.7,364.2 141.1,384.3 142.5,370.8 143.9,379.6 145.3,374.1 146.7,379.1 148.1,355.3 149.5,360.8 150.9,379.7 152.3,370.3 153.7,367.6 155.1,349.4 156.5,373.5 157.9,377.5 159.3,359.7 160.7,377.0 162.1,359.5 163.5,361.0" fill="none" stroke="#111" stroke-width="1.1" stroke-linejoin="round" />
<polyline points="24.9,363.1 26.3,363.2 27.7,363.4 29.1,363.5 30.5,363.7 31.9,363.8 33.3,364.0 34.7,364.2 36.1,364.4 37.5,364.7 38.9,364.9 40.3,365.2 41.7,365.5 43.1,365.9 44.5,366.2 45.9,366.6 47.3,367.0 48.7,367.5 50.1,367.9 51.5,368.4 52.9,368.9 54.3,369.5 55.7,370.0 57.1,370.6 58.5,371.3 59.9,371.9 61.3,372.6 62.7,373.2 64.1,373.9 65.5,374.6 66.9,375.3 68.3,376.0 69.7,376.7 71.1,377.4 72.5,378.1 73.9,378.7 75.3,379.1 76.7,379.1 78.1,378.0 79.5,374.7 80.9,369.1 82.3,363.1 83.7,361.7 85.1,366.8 86.5,374.2 87.9,380.0 89.3,383.3 90.7,384.8 92.1,385.6 93.5,386.0 94.9,386.3 96.3,386.4 97.7,386.5 99.1,386.5 100.5,386.5 101.9,386.3 103.3,386.1 104.7,385.9 106.1,385.6 107.5,385.2 108.9,384.8 110.3,384.3 111.7,383.8 113.1,383.2 114.5,382.6 115.9,382.0 117.3,381.4 118.7,380.7 120.1,380.1 121.5,379.4 122.9,378.7 124.3,378.0 125.7,377.3 127.1,376.6 128.5,375.9 129.9,375.2 131.3,374.6 132.7,373.9 134.1,373.3 135.5,372.7 136.9,372.1 138.3,371.6 139.7,371.0 141.1,370.5 142.5,370.1 143.9,369.6 145.3,369.2 146.7,368.8 148.1,368.5 149.5,368.1 150.9,367.8 152.3,367.5 153.7,367.3 155.1,367.0 156.5,366.8 157.9,366.6 159.3,366.5 160.7,366.3 162.1,366.2 163.5,366.0" fill="none" stroke="#12901a" stroke-width="1.2" stroke-linejoin="round" />
<polyline points="24.9,363.1 26.3,363.2 27.7,363.3 29.1,363.5 30.5,363.6 31.9,363.8 33.3,364.0 34.7,364.2 36.1,364.4 37.5,364.6 38.9,364.9 40.3,365.2 41.7,365.5 43.1,365.8 44.5,366.2 45.9,366.6 47.3,367.0 48.7,367.4 50.1,367.9 51.5,368.3 52.9,368.9 54.3,369.4 55.7,370.0 57.1,370.5 58.5,371.2 59.9,371.8 61.3,372.4 62.7,373.1 64.1,373.8 65.5,374.5 66.9,375.2 68.3,375.9 69.7,376.5 71.1,377.2 72.5,377.9 73.9,378.5 75.3,379.0 76.7,379.5 78.1,379.8 79.5,379.5 80.9,378.2 82.3,374.4 83.7,367.1 85.1,356.2 86.5,344.9 87.9,339.4 89.3,344.3 90.7,356.1 92.1,368.1 93.5,376.7 94.9,381.7 96.3,384.0 97.7,385.1 99.1,385.5 100.5,385.7 101.9,385.7 103.3,385.6 104.7,385.4 106.1,385.2 107.5,384.9 108.9,384.5 110.3,384.0 111.7,383.6 113.1,383.0 114.5,382.5 115.9,381.9 117.3,381.3 118.7,380.6 120.1,379.9 121.5,379.3 122.9,378.6 124.3,377.9 125.7,377.2 127.1,376.5 128.5,375.8 129.9,375.2 131.3,374.5 132.7,373.9 134.1,373.2 135.5,372.6 136.9,372.1 138.3,371.5 139.7,371.0 141.1,370.5 142.5,370.0 143.9,369.6 145.3,369.2 146.7,368.8 148.1,368.4 149.5,368.1 150.9,367.8 152.3,367.5 153.7,367.2 155.1,367.0 156.5,366.8 157.9,366.6 159.3,366.4 160.7,366.3 162.1,366.1 163.5,366.0" fill="none" stroke="#f03cf0" stroke-width="1.2" stroke-linejoin="round" />
<polyline points="24.9,363.1 26.3,363.2 27.7,363.3 29.1,363.5 30.5,363.6 31.9,363.8 33.3,364.0 34.7,364.2 36.1,364.4 37.5,364.6 38.9,364.9 40.3,365.2 41.7,365.5 43.1,365.8 44.5,366.2 45.9,366.6 47.3,367.0 48.7,367.4 50.1,367.9 51.5,368.3 52.9,368.9 54.3,369.4 55.7,370.0 57.1,370.6 58.5,371.2 59.9,371.8 61.3,372.5 62.7,373.1 64.1,373.8 65.5,374.5 66.9,375.2 68.3,376.0 69.7,376.7 71.1,377.4 72.5,378.1 73.9,378.8 75.3,379.4 76.7,380.0 78.1,380.6 79.5,381.2 80.9,381.6 82.3,382.0 83.7,382.2 85.1,382.0 86.5,381.1 87.9,378.6 89.3,373.5 90.7,365.2 92.1,354.1 93.5,342.8 94.9,336.1 96.3,338.2 97.7,347.7 99.1,359.6 100.5,369.9 101.9,377.0 103.3,381.0 104.7,382.9 106.1,383.6 107.5,383.7 108.9,383.6 110.3,383.4 111.7,383.0 113.1,382.6 114.5,382.1 115.9,381.5 117.3,381.0 118.7,380.3 120.1,379.7 121.5,379.1 122.9,378.4 124.3,377.7 125.7,377.0 127.1,376.4 128.5,375.7 129.9,375.0 131.3,374.4 132.7,373.8 134.1,373.2 135.5,372.6 136.9,372.0 138.3,371.5 139.7,370.9 141.1,370.4 142.5,370.0 143.9,369.5 145.3,369.1 146.7,368.7 148.1,368.4 149.5,368.1 150.9,367.8 152.3,367.5 153.7,367.2 155.1,367.0 156.5,366.8 157.9,366.6 159.3,366.4 160.7,366.3 162.1,366.1 163.5,366.0" fill="none" stroke="#22229a" stroke-width="1.2" stroke-linejoin="round" />
<polyline points="24.9,363.1 26.3,363.2 27.7,363.3 29.1,363.4 30.5,363.6 31.9,363.8 33.3,363.9 34.7,364.1 36.1,364.4 37.5,364.6 38.9,364.9 40.3,365.1 41.7,365.4 43.1,365.8 44.5,366.1 45.9,366.5 47.3,366.9 48.7,367.3 50.1,367.8 51.5,368.3 52.9,368.8 54.3,369.3 55.7,369.9 57.1,370.5 58.5,371.1 59.9,371.8 61.3,372.4 62.7,373.1 64.1,373.8 65.5,374.5 66.9,375.2 68.3,375.9 69.7,376.6 71.1,377.4 72.5,378.1 73.9,378.8 75.3,379.5 76.7,380.1 78.1,380.8 79.5,381.4 80.9,381.9 82.3,382.4 83.7,382.9 85.1,383.3 86.5,383.6 87.9,383.9 89.3,384.0 90.7,383.9 92.1,383.6 93.5,382.8 94.9,381.3 96.3,378.6 97.7,374.2 99.1,367.9 100.5,359.4 101.9,349.3 103.3,338.9 104.7,330.3 106.1,325.8 107.5,327.1 108.9,333.5 110.3,342.8 111.7,352.5 113.1,361.0 114.5,367.7 115.9,372.3 117.3,375.0 118.7,376.5 120.1,377.0 121.5,377.1 122.9,376.8 124.3,376.4 125.7,375.9 127.1,375.4 128.5,374.9 129.9,374.3 131.3,373.8 132.7,373.2 134.1,372.6 135.5,372.1 136.9,371.6 138.3,371.1 139.7,370.6 141.1,370.1 142.5,369.7 143.9,369.3 145.3,368.9 146.7,368.5 148.1,368.2 149.5,367.9 150.9,367.6 152.3,367.3 153.7,367.0 155.1,366.8 156.5,366.6 157.9,366.4 159.3,366.3 160.7,366.1 162.1,366.0 163.5,365.9" fill="none" stroke="#9b30f0" stroke-width="1.2" stroke-linejoin="round" />
<polyline points="24.9,362.7 26.3,362.8 27.7,362.9 29.1,362.9 30.5,363.0 31.9,363.1 33.3,363.2 34.7,363.3 36.1,363.4 37.5,363.5 38.9,363.6 40.3,363.8 41.7,363.9 43.1,364.1 44.5,364.2 45.9,364.4 47.3,364.6 48.7,364.8 50.1,365.0 51.5,365.2 52.9,365.4 54.3,365.7 55.7,365.9 57.1,366.2 58.5,366.4 59.9,366.7 61.3,367.0 62.7,367.3 64.1,367.5 65.5,367.8 66.9,368.1 68.3,368.4 69.7,368.7 71.1,368.9 72.5,369.2 73.9,369.4 75.3,369.6 76.7,369.6 78.1,369.4 79.5,368.0 80.9,363.7 82.3,355.6 83.7,346.0 85.1,337.7 86.5,330.4 87.9,324.7 89.3,324.8 90.7,329.5 92.1,332.3 93.5,330.4 94.9,328.1 96.3,331.0 97.7,336.8 99.1,340.4 100.5,339.9 101.9,336.0 103.3,330.1 104.7,324.4 106.1,321.6 107.5,323.9 108.9,330.9 110.3,340.2 111.7,349.4 113.1,357.2 114.5,362.9 115.9,366.5 117.3,368.6 118.7,369.7 120.1,370.2 121.5,370.4 122.9,370.4 124.3,370.4 125.7,370.2 127.1,370.1 128.5,369.9 129.9,369.7 131.3,369.5 132.7,369.2 134.1,369.0 135.5,368.7 136.9,368.5 138.3,368.3 139.7,368.0 141.1,367.8 142.5,367.6 143.9,367.4 145.3,367.2 146.7,367.0 148.1,366.8 149.5,366.6 150.9,366.5 152.3,366.3 153.7,366.2 155.1,366.1 156.5,366.0 157.9,365.8 159.3,365.7 160.7,365.7 162.1,365.6 163.5,365.5" fill="none" stroke="#e3141b" stroke-width="1.8" stroke-linejoin="round" />
</g>
<rect x="24.4" y="300.5" width="140.2" height="112.30000000000001" fill="none" stroke="#4a4a4a" stroke-width="1"/>
<line x1="41.92" y1="412.8" x2="41.92" y2="414.6" stroke="#333" stroke-width="0.9"/>
<line x1="59.45" y1="412.8" x2="59.45" y2="415.1" stroke="#333" stroke-width="0.9"/>
<line x1="76.97" y1="412.8" x2="76.97" y2="414.6" stroke="#333" stroke-width="0.9"/>
<line x1="94.50" y1="412.8" x2="94.50" y2="415.1" stroke="#333" stroke-width="0.9"/>
<line x1="112.02" y1="412.8" x2="112.02" y2="414.6" stroke="#333" stroke-width="0.9"/>
<line x1="129.55" y1="412.8" x2="129.55" y2="415.1" stroke="#333" stroke-width="0.9"/>
<line x1="147.07" y1="412.8" x2="147.07" y2="414.6" stroke="#333" stroke-width="0.9"/>
<text transform="matrix(0.97806 0 0 0.97806 17.07 424.50)" fill="#000" stroke="#000" stroke-width="0.4090">390</text>
<text transform="matrix(0.98233 0 0 0.98233 52.08 424.50)" fill="#000" stroke="#000" stroke-width="0.4072">395</text>
<text transform="matrix(0.97806 0 0 0.97806 87.28 424.50)" fill="#000" stroke="#000" stroke-width="0.4090">400</text>
<text transform="matrix(0.97806 0 0 0.97806 122.33 424.50)" fill="#000" stroke="#000" stroke-width="0.4090">405</text>
<text transform="matrix(0.97806 0 0 0.97806 157.38 424.50)" fill="#000" stroke="#000" stroke-width="0.4090">410</text>
<text transform="matrix(1.01508 0 0 0.89302 26.00 313.01)" fill="#000" stroke="#000" stroke-width="0.4193">GO</text>
<text transform="matrix(1.00136 0 0 0.94041 26.31 324.81)" fill="#000" stroke="#000" stroke-width="0.4120">N1s</text>
<text transform="matrix(1.83652 0 0 1.57454 121.49 340.92)" fill="#000" stroke="#000" stroke-width="0.2345">(g)</text>
<text transform="matrix(0.98875 0 0 0.89812 94.16 314.37)" fill="#22229a" stroke="#22229a" stroke-width="0.4240">400.1</text>
<text transform="matrix(0.99507 0 0 0.96116 56.53 325.56)" fill="#f03cf0" stroke="#f03cf0" stroke-width="0.4090">399.1</text>
<text transform="matrix(1.02626 0 0 0.95701 113.16 320.86)" fill="#9b30f0" stroke="#9b30f0" stroke-width="0.4034">401.7</text>
<text transform="matrix(1.02377 0 0 0.95701 53.62 345.36)" fill="#12901a" stroke="#12901a" stroke-width="0.4039">398.3</text>
<text transform="matrix(0.96137 0 0 0.91848 53.64 434.67)" fill="#000" stroke="#000" stroke-width="0.4256">Binding energy (eV)</text>
<text transform="matrix(0 -1.00290 0.80249 0 15.87 382.74)" fill="#000" stroke="#000" stroke-width="0.4431">Intensity (a.u)</text>
<line x1="98.5" y1="313.8" x2="93.2" y2="332.3" stroke="#22229a" stroke-width="0.8"/>
<line x1="76" y1="327" x2="86.6" y2="337.5" stroke="#f03cf0" stroke-width="0.8"/>
<line x1="114.3" y1="323.8" x2="106.9" y2="329.1" stroke="#9b30f0" stroke-width="0.8"/>
<line x1="70.8" y1="346.8" x2="82.1" y2="361.3" stroke="#12901a" stroke-width="0.8"/>
<clipPath id="cph"><rect x="205.3" y="301.2" width="140.3" height="112.60000000000002"/></clipPath>
<g clip-path="url(#cph)">
<polyline points="220.0,407.3 221.0,407.3 222.0,407.2 223.0,407.2 224.0,407.2 225.0,407.1 226.0,407.1 227.0,407.1 228.0,407.0 229.0,407.0 230.0,407.0 231.0,406.9 232.0,406.9 233.0,406.9 234.0,406.8 235.0,406.8 236.0,406.8 237.0,406.7 238.0,406.7 239.0,406.7 240.0,406.6 241.0,406.6 242.0,406.6 243.0,406.5 244.0,406.5 245.0,406.4 246.0,406.4 247.0,406.4 248.0,406.3 249.0,406.3 250.0,406.3 251.0,406.2 252.0,406.2 253.0,406.2 254.0,406.1 255.0,406.1 256.0,406.1 257.0,406.0 258.0,406.0 259.0,406.0 260.0,405.9 261.0,405.9 262.0,405.9 263.0,405.8 264.0,405.8 265.0,405.8 266.0,405.7 267.0,405.7 268.0,405.7 269.0,405.6 270.0,405.6 271.0,405.6 272.0,405.5 273.0,405.5 274.0,405.5 275.0,405.4 276.0,405.4 277.0,405.4 278.0,405.3 279.0,405.3 280.0,405.2 281.0,405.2 282.0,405.2 283.0,405.1 284.0,405.1 285.0,405.1 286.0,405.0 287.0,405.0 288.0,405.0 289.0,404.9 290.0,404.9 291.0,404.9 292.0,404.8 293.0,404.8 294.0,404.8 295.0,404.7 296.0,404.7 297.0,404.7 298.0,404.6 299.0,404.6 300.0,404.6 301.0,404.5 302.0,404.5 303.0,404.5 304.0,404.4 305.0,404.4 306.0,404.4 307.0,404.3 308.0,404.3 309.0,404.3 310.0,404.2 311.0,404.2 312.0,404.2 313.0,404.1 314.0,404.1 315.0,404.0 316.0,404.0 317.0,404.0 318.0,403.9 319.0,403.9 320.0,403.9 321.0,403.8 322.0,403.8 323.0,403.8 324.0,403.7 325.0,403.7 326.0,403.7 327.0,403.6 328.0,403.6 329.0,403.6 330.0,403.5 331.0,403.5 332.0,403.5 333.0,403.4 334.0,403.4 335.0,403.4 336.0,403.3 337.0,403.3 338.0,403.3 339.0,403.2 340.0,403.2 341.0,403.2 342.0,403.1 343.0,403.1 344.0,403.1 345.0,403.0" fill="none" stroke="#9b30f0" stroke-width="1.2" stroke-linejoin="round" />
<polyline points="220.0,405.6 221.0,405.9 222.0,405.8 223.0,406.5 224.0,406.0 225.0,406.3 226.0,406.8 227.0,406.7 228.0,406.3 229.0,405.5 230.0,405.1 231.0,405.0 232.0,405.3 233.0,405.4 234.0,404.6 235.0,404.3 236.0,405.3 237.0,403.5 238.0,404.7 239.0,405.0 240.0,403.7 241.0,403.5 242.0,403.6 243.0,404.5 244.0,403.7 245.0,402.0 246.0,402.9 247.0,403.8 248.0,403.4 249.0,402.7 250.0,401.5 251.0,399.7 252.0,400.6 253.0,399.4 254.0,398.5 255.0,398.2 256.0,395.3 257.0,393.0 258.0,390.3 259.0,386.0 260.0,381.3 261.0,376.1 262.0,371.4 263.0,364.6 264.0,356.5 265.0,350.3 266.0,342.0 267.0,333.7 268.0,329.3 269.0,324.5 270.0,321.5 271.0,323.5 272.0,325.7 273.0,330.6 274.0,337.5 275.0,342.1 276.0,349.9 277.0,357.4 278.0,364.2 279.0,369.1 280.0,373.6 281.0,377.7 282.0,381.8 283.0,385.1 284.0,385.6 285.0,386.8 286.0,389.7 287.0,390.9 288.0,391.6 289.0,393.8 290.0,394.9 291.0,394.7 292.0,395.7 293.0,397.3 294.0,397.3 295.0,397.2 296.0,398.9 297.0,398.8 298.0,400.4 299.0,400.2 300.0,400.8 301.0,401.7 302.0,401.5 303.0,401.4 304.0,401.3 305.0,403.6 306.0,403.3 307.0,401.3 308.0,401.8 309.0,403.1 310.0,402.3 311.0,402.8 312.0,403.5 313.0,403.0 314.0,402.8 315.0,402.5 316.0,402.9 317.0,403.3 318.0,404.3 319.0,403.8 320.0,402.8 321.0,403.7 322.0,403.1 323.0,401.8 324.0,402.9 325.0,403.8 326.0,402.5 327.0,403.7 328.0,402.7 329.0,402.9 330.0,402.0 331.0,404.6 332.0,403.3 333.0,403.7 334.0,402.5 335.0,401.7 336.0,403.8 337.0,402.2 338.0,404.1 339.0,402.6 340.0,404.0 341.0,402.1 342.0,401.3 343.0,403.2 344.0,402.6 345.0,402.6" fill="none" stroke="#111" stroke-width="1.1" stroke-linejoin="round" />
<polyline points="220.0,407.1 221.0,407.1 222.0,407.0 223.0,407.0 224.0,407.0 225.0,406.9 226.0,406.9 227.0,406.8 228.0,406.8 229.0,406.7 230.0,406.7 231.0,406.6 232.0,406.6 233.0,406.5 234.0,406.5 235.0,406.4 236.0,406.4 237.0,406.3 238.0,406.2 239.0,406.2 240.0,406.1 241.0,406.0 242.0,406.0 243.0,405.9 244.0,405.8 245.0,405.7 246.0,405.6 247.0,405.5 248.0,405.4 249.0,405.2 250.0,405.1 251.0,404.9 252.0,404.7 253.0,404.5 254.0,404.2 255.0,403.8 256.0,403.2 257.0,402.4 258.0,401.1 259.0,399.2 260.0,396.5 261.0,392.7 262.0,387.6 263.0,381.4 264.0,374.0 265.0,366.1 266.0,358.3 267.0,351.7 268.0,347.6 269.0,346.8 270.0,349.6 271.0,355.3 272.0,362.7 273.0,370.6 274.0,378.2 275.0,384.8 276.0,390.3 277.0,394.5 278.0,397.6 279.0,399.7 280.0,401.2 281.0,402.1 282.0,402.7 283.0,403.1 284.0,403.3 285.0,403.5 286.0,403.7 287.0,403.8 288.0,403.9 289.0,403.9 290.0,404.0 291.0,404.0 292.0,404.1 293.0,404.1 294.0,404.1 295.0,404.1 296.0,404.1 297.0,404.1 298.0,404.1 299.0,404.1 300.0,404.1 301.0,404.1 302.0,404.1 303.0,404.1 304.0,404.1 305.0,404.1 306.0,404.0 307.0,404.0 308.0,404.0 309.0,404.0 310.0,404.0 311.0,403.9 312.0,403.9 313.0,403.9 314.0,403.9 315.0,403.8 316.0,403.8 317.0,403.8 318.0,403.8 319.0,403.7 320.0,403.7 321.0,403.7 322.0,403.7 323.0,403.6 324.0,403.6 325.0,403.6 326.0,403.5 327.0,403.5 328.0,403.5 329.0,403.4 330.0,403.4 331.0,403.4 332.0,403.4 333.0,403.3 334.0,403.3 335.0,403.3 336.0,403.2 337.0,403.2 338.0,403.2 339.0,403.1 340.0,403.1 341.0,403.1 342.0,403.0 343.0,403.0 344.0,403.0 345.0,402.9" fill="none" stroke="#f03cf0" stroke-width="1.2" stroke-linejoin="round" />
<polyline points="220.0,407.2 221.0,407.2 222.0,407.2 223.0,407.1 224.0,407.1 225.0,407.0 226.0,407.0 227.0,407.0 228.0,406.9 229.0,406.9 230.0,406.8 231.0,406.8 232.0,406.8 233.0,406.7 234.0,406.7 235.0,406.6 236.0,406.6 237.0,406.6 238.0,406.5 239.0,406.5 240.0,406.4 241.0,406.4 242.0,406.3 243.0,406.3 244.0,406.2 245.0,406.2 246.0,406.1 247.0,406.1 248.0,406.0 249.0,406.0 250.0,405.9 251.0,405.8 252.0,405.8 253.0,405.7 254.0,405.6 255.0,405.5 256.0,405.4 257.0,405.3 258.0,405.2 259.0,405.0 260.0,404.9 261.0,404.6 262.0,404.3 263.0,403.8 264.0,403.1 265.0,401.9 266.0,400.2 267.0,397.6 268.0,394.1 269.0,389.7 270.0,384.4 271.0,378.8 272.0,373.7 273.0,369.9 274.0,368.5 275.0,369.8 276.0,373.5 277.0,378.6 278.0,384.1 279.0,389.3 280.0,393.7 281.0,397.1 282.0,399.6 283.0,401.3 284.0,402.4 285.0,403.1 286.0,403.5 287.0,403.7 288.0,403.9 289.0,404.0 290.0,404.1 291.0,404.1 292.0,404.2 293.0,404.2 294.0,404.2 295.0,404.2 296.0,404.3 297.0,404.3 298.0,404.3 299.0,404.2 300.0,404.2 301.0,404.2 302.0,404.2 303.0,404.2 304.0,404.2 305.0,404.2 306.0,404.1 307.0,404.1 308.0,404.1 309.0,404.1 310.0,404.0 311.0,404.0 312.0,404.0 313.0,404.0 314.0,403.9 315.0,403.9 316.0,403.9 317.0,403.9 318.0,403.8 319.0,403.8 320.0,403.8 321.0,403.7 322.0,403.7 323.0,403.7 324.0,403.7 325.0,403.6 326.0,403.6 327.0,403.6 328.0,403.5 329.0,403.5 330.0,403.5 331.0,403.4 332.0,403.4 333.0,403.4 334.0,403.3 335.0,403.3 336.0,403.3 337.0,403.2 338.0,403.2 339.0,403.2 340.0,403.1 341.0,403.1 342.0,403.1 343.0,403.0 344.0,403.0 345.0,403.0" fill="none" stroke="#12901a" stroke-width="1.2" stroke-linejoin="round" />
<polyline points="220.0,407.2 221.0,407.2 222.0,407.1 223.0,407.1 224.0,407.1 225.0,407.0 226.0,407.0 227.0,406.9 228.0,406.9 229.0,406.9 230.0,406.8 231.0,406.8 232.0,406.7 233.0,406.7 234.0,406.7 235.0,406.6 236.0,406.6 237.0,406.5 238.0,406.5 239.0,406.4 240.0,406.4 241.0,406.4 242.0,406.3 243.0,406.3 244.0,406.2 245.0,406.2 246.0,406.1 247.0,406.1 248.0,406.0 249.0,406.0 250.0,405.9 251.0,405.8 252.0,405.8 253.0,405.7 254.0,405.6 255.0,405.6 256.0,405.5 257.0,405.4 258.0,405.3 259.0,405.2 260.0,405.1 261.0,404.9 262.0,404.7 263.0,404.5 264.0,404.1 265.0,403.7 266.0,403.1 267.0,402.4 268.0,401.5 269.0,400.3 270.0,398.9 271.0,397.2 272.0,395.2 273.0,393.1 274.0,390.7 275.0,388.3 276.0,386.0 277.0,383.9 278.0,382.3 279.0,381.2 280.0,380.9 281.0,381.3 282.0,382.4 283.0,384.1 284.0,386.2 285.0,388.5 286.0,390.8 287.0,393.0 288.0,395.1 289.0,396.9 290.0,398.5 291.0,399.8 292.0,400.8 293.0,401.7 294.0,402.3 295.0,402.8 296.0,403.1 297.0,403.3 298.0,403.5 299.0,403.6 300.0,403.7 301.0,403.8 302.0,403.8 303.0,403.8 304.0,403.9 305.0,403.9 306.0,403.9 307.0,403.9 308.0,403.9 309.0,403.9 310.0,403.8 311.0,403.8 312.0,403.8 313.0,403.8 314.0,403.8 315.0,403.8 316.0,403.7 317.0,403.7 318.0,403.7 319.0,403.7 320.0,403.7 321.0,403.6 322.0,403.6 323.0,403.6 324.0,403.6 325.0,403.5 326.0,403.5 327.0,403.5 328.0,403.5 329.0,403.4 330.0,403.4 331.0,403.4 332.0,403.3 333.0,403.3 334.0,403.3 335.0,403.2 336.0,403.2 337.0,403.2 338.0,403.2 339.0,403.1 340.0,403.1 341.0,403.1 342.0,403.0 343.0,403.0 344.0,403.0 345.0,402.9" fill="none" stroke="#22229a" stroke-width="1.2" stroke-linejoin="round" />
<polyline points="220.0,406.6 221.0,406.5 222.0,406.5 223.0,406.4 224.0,406.3 225.0,406.3 226.0,406.2 227.0,406.1 228.0,406.0 229.0,406.0 230.0,405.9 231.0,405.8 232.0,405.7 233.0,405.6 234.0,405.5 235.0,405.4 236.0,405.3 237.0,405.1 238.0,405.0 239.0,404.9 240.0,404.7 241.0,404.6 242.0,404.4 243.0,404.2 244.0,404.0 245.0,403.8 246.0,403.5 247.0,403.2 248.0,402.9 249.0,402.5 250.0,402.1 251.0,401.5 252.0,400.8 253.0,399.9 254.0,398.8 255.0,397.4 256.0,395.5 257.0,393.1 258.0,390.2 259.0,386.5 260.0,382.0 261.0,376.7 262.0,370.7 263.0,363.9 264.0,356.7 265.0,349.3 266.0,342.0 267.0,335.6 268.0,330.6 269.0,327.7 270.0,327.3 271.0,329.4 272.0,333.7 273.0,339.6 274.0,346.3 275.0,353.4 276.0,360.2 277.0,366.6 278.0,372.4 279.0,377.3 280.0,381.5 281.0,385.0 282.0,387.9 283.0,390.2 284.0,392.2 285.0,393.8 286.0,395.2 287.0,396.4 288.0,397.4 289.0,398.3 290.0,399.1 291.0,399.8 292.0,400.3 293.0,400.8 294.0,401.2 295.0,401.6 296.0,401.9 297.0,402.1 298.0,402.3 299.0,402.4 300.0,402.6 301.0,402.7 302.0,402.8 303.0,402.8 304.0,402.9 305.0,403.0 306.0,403.0 307.0,403.0 308.0,403.1 309.0,403.1 310.0,403.1 311.0,403.1 312.0,403.2 313.0,403.2 314.0,403.2 315.0,403.2 316.0,403.2 317.0,403.2 318.0,403.2 319.0,403.2 320.0,403.2 321.0,403.2 322.0,403.2 323.0,403.1 324.0,403.1 325.0,403.1 326.0,403.1 327.0,403.1 328.0,403.1 329.0,403.1 330.0,403.0 331.0,403.0 332.0,403.0 333.0,403.0 334.0,403.0 335.0,402.9 336.0,402.9 337.0,402.9 338.0,402.9 339.0,402.9 340.0,402.8 341.0,402.8 342.0,402.8 343.0,402.8 344.0,402.7 345.0,402.7" fill="none" stroke="#e3141b" stroke-width="1.8" stroke-linejoin="round" />
</g>
<rect x="205.3" y="301.2" width="140.3" height="112.60000000000002" fill="none" stroke="#4a4a4a" stroke-width="1"/>
<line x1="222.84" y1="413.8" x2="222.84" y2="415.6" stroke="#333" stroke-width="0.9"/>
<line x1="240.38" y1="413.8" x2="240.38" y2="416.1" stroke="#333" stroke-width="0.9"/>
<line x1="257.91" y1="413.8" x2="257.91" y2="415.6" stroke="#333" stroke-width="0.9"/>
<line x1="275.45" y1="413.8" x2="275.45" y2="416.1" stroke="#333" stroke-width="0.9"/>
<line x1="292.99" y1="413.8" x2="292.99" y2="415.6" stroke="#333" stroke-width="0.9"/>
<line x1="310.52" y1="413.8" x2="310.52" y2="416.1" stroke="#333" stroke-width="0.9"/>
<line x1="328.06" y1="413.8" x2="328.06" y2="415.6" stroke="#333" stroke-width="0.9"/>
<text transform="matrix(0.82157 0 0 0.93360 199.14 424.61)" fill="#000" stroke="#000" stroke-width="0.4558">390</text>
<text transform="matrix(0.82515 0 0 0.93767 234.18 424.61)" fill="#000" stroke="#000" stroke-width="0.4538">395</text>
<text transform="matrix(0.82157 0 0 0.93360 269.39 424.61)" fill="#000" stroke="#000" stroke-width="0.4558">400</text>
<text transform="matrix(0.82157 0 0 0.93360 304.46 424.61)" fill="#000" stroke="#000" stroke-width="0.4558">405</text>
<text transform="matrix(0.82157 0 0 0.93360 339.54 424.61)" fill="#000" stroke="#000" stroke-width="0.4558">410</text>
<text transform="matrix(0.96162 0 0 0.86326 210.74 317.02)" fill="#000" stroke="#000" stroke-width="0.4384">rGO</text>
<text transform="matrix(0.95671 0 0 0.91055 210.82 328.41)" fill="#000" stroke="#000" stroke-width="0.4284">N1s</text>
<text transform="matrix(2.14233 0 0 1.54400 310.76 339.21)" fill="#000" stroke="#000" stroke-width="0.2170">(h)</text>
<text transform="matrix(0.92102 0 0 0.97594 262.25 319.06)" fill="#e3141b" stroke="#e3141b" stroke-width="0.4217">399.1</text>
<text transform="matrix(0.91441 0 0 0.97173 235.76 336.26)" fill="#f03cf0" stroke="#f03cf0" stroke-width="0.4241">398.9</text>
<text transform="matrix(0.96893 0 0 0.99073 282.14 348.26)" fill="#12901a" stroke="#12901a" stroke-width="0.4082">399.7</text>
<text transform="matrix(0.91984 0 0 0.94229 287.17 369.97)" fill="#22229a" stroke="#22229a" stroke-width="0.4296">400.4</text>
<text transform="matrix(0.86079 0 0 0.86381 239.26 435.49)" fill="#000" stroke="#000" stroke-width="0.4639">Binding energy (eV)</text>
<text transform="matrix(0 -1.05017 0.80249 0 196.07 386.85)" fill="#000" stroke="#000" stroke-width="0.4318">Intensity (a.u)</text>
<line x1="256" y1="335.1" x2="268.7" y2="345.7" stroke="#f03cf0" stroke-width="0.8"/>
<line x1="286.5" y1="349.7" x2="274.6" y2="366.9" stroke="#12901a" stroke-width="0.8"/>
<line x1="287.3" y1="369" x2="279.9" y2="378.9" stroke="#22229a" stroke-width="0.8"/>
<clipPath id="cpi"><rect x="395.2" y="300.9" width="140.40000000000003" height="113.5"/></clipPath>
<g clip-path="url(#cpi)">
<polyline points="409.0,392.1 410.0,392.2 411.0,392.3 412.0,392.4 413.0,392.6 414.0,392.7 415.0,392.8 416.0,392.9 417.0,393.0 418.0,393.1 419.0,393.2 420.0,393.3 421.0,393.4 422.0,393.6 423.0,393.7 424.0,393.8 425.0,393.9 426.0,394.0 427.0,394.1 428.0,394.2 429.0,394.3 430.0,394.4 431.0,394.6 432.0,394.7 433.0,394.8 434.0,394.9 435.0,395.0 436.0,395.1 437.0,395.2 438.0,395.3 439.0,395.4 440.0,395.6 441.0,395.7 442.0,395.8 443.0,395.9 444.0,396.0 445.0,396.1 446.0,396.2 447.0,396.3 448.0,396.5 449.0,396.6 450.0,396.7 451.0,396.8 452.0,396.9 453.0,397.0 454.0,397.1 455.0,397.2 456.0,397.3 457.0,397.5 458.0,397.6 459.0,397.7 460.0,397.8 461.0,397.9 462.0,398.0 463.0,398.1 464.0,398.2 465.0,398.3 466.0,398.5 467.0,398.6 468.0,398.7 469.0,398.8 470.0,398.9 471.0,399.0 472.0,399.1 473.0,399.2 474.0,399.3 475.0,399.5 476.0,399.6 477.0,399.7 478.0,399.8 479.0,399.9 480.0,400.0 481.0,400.1 482.0,400.2 483.0,400.3 484.0,400.5 485.0,400.6 486.0,400.7 487.0,400.8 488.0,400.9 489.0,401.0 490.0,401.1 491.0,401.2 492.0,401.3 493.0,401.5 494.0,401.6 495.0,401.7 496.0,401.8 497.0,401.9 498.0,402.0 499.0,402.1 500.0,402.2 501.0,402.3 502.0,402.5 503.0,402.6 504.0,402.7 505.0,402.8 506.0,402.9 507.0,403.0 508.0,403.1 509.0,403.2 510.0,403.4 511.0,403.5 512.0,403.6 513.0,403.7 514.0,403.8 515.0,403.9 516.0,404.0 517.0,404.1 518.0,404.2 519.0,404.4 520.0,404.5 521.0,404.6 522.0,404.7 523.0,404.8 524.0,404.9 525.0,405.0 526.0,405.1 527.0,405.2 528.0,405.4 529.0,405.5 530.0,405.6 531.0,405.7 532.0,405.8 533.0,405.9 534.0,406.0 535.0,406.1" fill="none" stroke="#22229a" stroke-width="1.2" stroke-linejoin="round" />
<polyline points="409.0,396.0 410.0,401.7 411.0,401.2 412.0,394.1 413.0,395.0 414.0,394.2 415.0,398.9 416.0,396.4 417.0,399.8 418.0,389.0 419.0,403.5 420.0,396.6 421.0,400.0 422.0,396.6 423.0,395.7 424.0,399.3 425.0,400.9 426.0,396.7 427.0,397.0 428.0,400.6 429.0,394.2 430.0,391.5 431.0,399.6 432.0,395.2 433.0,390.1 434.0,394.8 435.0,396.3 436.0,393.3 437.0,392.1 438.0,398.6 439.0,402.2 440.0,397.5 441.0,395.4 442.0,400.1 443.0,401.5 444.0,397.2 445.0,400.6 446.0,402.4 447.0,392.8 448.0,389.7 449.0,393.7 450.0,391.9 451.0,393.8 452.0,381.4 453.0,381.2 454.0,377.1 455.0,369.6 456.0,373.6 457.0,371.7 458.0,363.6 459.0,371.0 460.0,368.6 461.0,369.4 462.0,371.2 463.0,377.0 464.0,371.2 465.0,383.0 466.0,386.2 467.0,378.9 468.0,389.9 469.0,388.7 470.0,393.6 471.0,388.2 472.0,388.7 473.0,387.5 474.0,377.9 475.0,377.4 476.0,365.3 477.0,356.6 478.0,339.8 479.0,334.3 480.0,323.0 481.0,316.3 482.0,323.5 483.0,335.7 484.0,350.5 485.0,349.3 486.0,371.2 487.0,378.9 488.0,383.7 489.0,388.8 490.0,406.5 491.0,392.9 492.0,405.9 493.0,411.5 494.0,394.0 495.0,402.7 496.0,396.9 497.0,407.1 498.0,415.4 499.0,419.0 500.0,395.3 501.0,403.1 502.0,411.4 503.0,417.2 504.0,410.1 505.0,403.0 506.0,409.7 507.0,407.9 508.0,406.9 509.0,403.8 510.0,411.0 511.0,410.6 512.0,408.3 513.0,407.6 514.0,401.1 515.0,406.2 516.0,417.1 517.0,408.4 518.0,400.7 519.0,418.3 520.0,413.3 521.0,423.4 522.0,410.7 523.0,407.5 524.0,401.4 525.0,419.0 526.0,427.0 527.0,405.7 528.0,406.9 529.0,414.9 530.0,406.0 531.0,409.7 532.0,409.3 533.0,412.8 534.0,418.7 535.0,412.0" fill="none" stroke="#111" stroke-width="1.1" stroke-linejoin="round" />
<polyline points="409.0,391.9 410.0,392.0 411.0,392.1 412.0,392.2 413.0,392.3 414.0,392.4 415.0,392.5 416.0,392.6 417.0,392.7 418.0,392.8 419.0,392.9 420.0,393.0 421.0,393.1 422.0,393.2 423.0,393.3 424.0,393.4 425.0,393.5 426.0,393.6 427.0,393.6 428.0,393.7 429.0,393.8 430.0,393.9 431.0,394.0 432.0,394.1 433.0,394.1 434.0,394.2 435.0,394.3 436.0,394.3 437.0,394.4 438.0,394.4 439.0,394.5 440.0,394.5 441.0,394.5 442.0,394.5 443.0,394.5 444.0,394.4 445.0,394.3 446.0,394.1 447.0,393.7 448.0,393.1 449.0,392.2 450.0,390.9 451.0,389.1 452.0,386.8 453.0,383.9 454.0,380.6 455.0,376.8 456.0,373.0 457.0,369.5 458.0,366.7 459.0,365.2 460.0,365.2 461.0,366.7 462.0,369.5 463.0,373.0 464.0,376.8 465.0,380.4 466.0,383.7 467.0,386.4 468.0,388.4 469.0,389.8 470.0,390.3 471.0,390.1 472.0,388.7 473.0,386.0 474.0,381.5 475.0,374.8 476.0,365.8 477.0,354.5 478.0,341.9 479.0,329.7 480.0,320.5 481.0,317.0 482.0,320.8 483.0,330.4 484.0,342.9 485.0,355.9 486.0,367.5 487.0,377.0 488.0,384.1 489.0,389.2 490.0,392.6 491.0,394.8 492.0,396.3 493.0,397.3 494.0,398.1 495.0,398.6 496.0,399.1 497.0,399.5 498.0,399.9 499.0,400.2 500.0,400.5 501.0,400.8 502.0,401.0 503.0,401.2 504.0,401.5 505.0,401.7 506.0,401.8 507.0,402.0 508.0,402.2 509.0,402.4 510.0,402.5 511.0,402.7 512.0,402.9 513.0,403.0 514.0,403.2 515.0,403.3 516.0,403.5 517.0,403.6 518.0,403.7 519.0,403.9 520.0,404.0 521.0,404.1 522.0,404.3 523.0,404.4 524.0,404.5 525.0,404.6 526.0,404.8 527.0,404.9 528.0,405.0 529.0,405.2 530.0,405.3 531.0,405.4 532.0,405.5 533.0,405.6 534.0,405.8 535.0,405.9" fill="none" stroke="#e3141b" stroke-width="1.8" stroke-linejoin="round" />
<polyline points="409.0,392.1 410.0,392.2 411.0,392.3 412.0,392.4 413.0,392.5 414.0,392.6 415.0,392.7 416.0,392.8 417.0,392.9 418.0,393.0 419.0,393.1 420.0,393.3 421.0,393.4 422.0,393.5 423.0,393.6 424.0,393.7 425.0,393.8 426.0,393.9 427.0,394.0 428.0,394.1 429.0,394.2 430.0,394.3 431.0,394.4 432.0,394.5 433.0,394.6 434.0,394.7 435.0,394.8 436.0,394.9 437.0,395.0 438.0,395.0 439.0,395.1 440.0,395.2 441.0,395.3 442.0,395.3 443.0,395.3 444.0,395.3 445.0,395.2 446.0,395.0 447.0,394.6 448.0,394.0 449.0,393.2 450.0,392.0 451.0,390.6 452.0,388.8 453.0,387.0 454.0,385.2 455.0,383.7 456.0,382.9 457.0,382.9 458.0,383.8 459.0,385.4 460.0,387.4 461.0,389.5 462.0,391.4 463.0,393.2 464.0,394.6 465.0,395.8 466.0,396.6 467.0,397.2 468.0,397.7 469.0,398.0 470.0,398.3 471.0,398.5 472.0,398.7 473.0,398.9 474.0,399.0 475.0,399.2 476.0,399.3 477.0,399.4 478.0,399.6 479.0,399.7 480.0,399.8 481.0,399.9 482.0,400.1 483.0,400.2 484.0,400.3 485.0,400.4 486.0,400.6 487.0,400.7 488.0,400.8 489.0,400.9 490.0,401.0 491.0,401.1 492.0,401.3 493.0,401.4 494.0,401.5 495.0,401.6 496.0,401.7 497.0,401.8 498.0,402.0 499.0,402.1 500.0,402.2 501.0,402.3 502.0,402.4 503.0,402.5 504.0,402.6 505.0,402.7 506.0,402.9 507.0,403.0 508.0,403.1 509.0,403.2 510.0,403.3 511.0,403.4 512.0,403.5 513.0,403.7 514.0,403.8 515.0,403.9 516.0,404.0 517.0,404.1 518.0,404.2 519.0,404.3 520.0,404.4 521.0,404.5 522.0,404.7 523.0,404.8 524.0,404.9 525.0,405.0 526.0,405.1 527.0,405.2 528.0,405.3 529.0,405.4 530.0,405.6 531.0,405.7 532.0,405.8 533.0,405.9 534.0,406.0 535.0,406.1" fill="none" stroke="#f03cf0" stroke-width="1.2" stroke-linejoin="round" />
<polyline points="409.0,392.1 410.0,392.2 411.0,392.3 412.0,392.4 413.0,392.5 414.0,392.6 415.0,392.7 416.0,392.8 417.0,392.9 418.0,393.0 419.0,393.2 420.0,393.3 421.0,393.4 422.0,393.5 423.0,393.6 424.0,393.7 425.0,393.8 426.0,393.9 427.0,394.0 428.0,394.1 429.0,394.2 430.0,394.3 431.0,394.4 432.0,394.5 433.0,394.6 434.0,394.7 435.0,394.8 436.0,394.9 437.0,395.0 438.0,395.1 439.0,395.2 440.0,395.3 441.0,395.4 442.0,395.5 443.0,395.5 444.0,395.6 445.0,395.7 446.0,395.7 447.0,395.8 448.0,395.8 449.0,395.8 450.0,395.8 451.0,395.6 452.0,395.3 453.0,394.7 454.0,393.7 455.0,392.0 456.0,389.5 457.0,386.1 458.0,382.1 459.0,377.9 460.0,374.3 461.0,372.3 462.0,372.7 463.0,375.3 464.0,379.3 465.0,383.8 466.0,387.9 467.0,391.3 468.0,393.9 469.0,395.6 470.0,396.8 471.0,397.5 472.0,398.0 473.0,398.4 474.0,398.6 475.0,398.8 476.0,399.0 477.0,399.2 478.0,399.4 479.0,399.5 480.0,399.7 481.0,399.8 482.0,400.0 483.0,400.1 484.0,400.2 485.0,400.4 486.0,400.5 487.0,400.6 488.0,400.7 489.0,400.9 490.0,401.0 491.0,401.1 492.0,401.2 493.0,401.3 494.0,401.5 495.0,401.6 496.0,401.7 497.0,401.8 498.0,401.9 499.0,402.0 500.0,402.2 501.0,402.3 502.0,402.4 503.0,402.5 504.0,402.6 505.0,402.7 506.0,402.8 507.0,403.0 508.0,403.1 509.0,403.2 510.0,403.3 511.0,403.4 512.0,403.5 513.0,403.6 514.0,403.8 515.0,403.9 516.0,404.0 517.0,404.1 518.0,404.2 519.0,404.3 520.0,404.4 521.0,404.5 522.0,404.7 523.0,404.8 524.0,404.9 525.0,405.0 526.0,405.1 527.0,405.2 528.0,405.3 529.0,405.4 530.0,405.6 531.0,405.7 532.0,405.8 533.0,405.9 534.0,406.0 535.0,406.1" fill="none" stroke="#12901a" stroke-width="1.2" stroke-linejoin="round" />
<polyline points="409.0,392.0 410.0,392.1 411.0,392.2 412.0,392.3 413.0,392.4 414.0,392.5 415.0,392.6 416.0,392.7 417.0,392.9 418.0,393.0 419.0,393.1 420.0,393.2 421.0,393.3 422.0,393.4 423.0,393.5 424.0,393.6 425.0,393.7 426.0,393.8 427.0,393.9 428.0,394.0 429.0,394.1 430.0,394.2 431.0,394.3 432.0,394.4 433.0,394.5 434.0,394.6 435.0,394.7 436.0,394.8 437.0,394.9 438.0,395.0 439.0,395.1 440.0,395.2 441.0,395.3 442.0,395.4 443.0,395.5 444.0,395.6 445.0,395.7 446.0,395.7 447.0,395.8 448.0,395.9 449.0,396.0 450.0,396.1 451.0,396.1 452.0,396.2 453.0,396.3 454.0,396.3 455.0,396.4 456.0,396.4 457.0,396.4 458.0,396.5 459.0,396.5 460.0,396.5 461.0,396.5 462.0,396.4 463.0,396.4 464.0,396.3 465.0,396.2 466.0,396.0 467.0,395.8 468.0,395.4 469.0,394.9 470.0,394.1 471.0,392.9 472.0,390.9 473.0,387.7 474.0,382.9 475.0,376.0 476.0,366.8 477.0,355.4 478.0,342.7 479.0,330.4 480.0,321.1 481.0,317.6 482.0,321.3 483.0,330.9 484.0,343.4 485.0,356.3 486.0,367.9 487.0,377.3 488.0,384.5 489.0,389.5 490.0,392.9 491.0,395.1 492.0,396.6 493.0,397.6 494.0,398.3 495.0,398.9 496.0,399.3 497.0,399.7 498.0,400.1 499.0,400.4 500.0,400.7 501.0,400.9 502.0,401.2 503.0,401.4 504.0,401.6 505.0,401.8 506.0,402.0 507.0,402.2 508.0,402.3 509.0,402.5 510.0,402.7 511.0,402.8 512.0,403.0 513.0,403.1 514.0,403.3 515.0,403.4 516.0,403.5 517.0,403.7 518.0,403.8 519.0,403.9 520.0,404.1 521.0,404.2 522.0,404.3 523.0,404.5 524.0,404.6 525.0,404.7 526.0,404.8 527.0,405.0 528.0,405.1 529.0,405.2 530.0,405.3 531.0,405.5 532.0,405.6 533.0,405.7 534.0,405.8 535.0,405.9" fill="none" stroke="#9b30f0" stroke-width="1.2" stroke-linejoin="round" />
</g>
<rect x="395.2" y="300.9" width="140.40000000000003" height="113.5" fill="none" stroke="#4a4a4a" stroke-width="1"/>
<line x1="412.75" y1="414.4" x2="412.75" y2="416.2" stroke="#333" stroke-width="0.9"/>
<line x1="430.30" y1="414.4" x2="430.30" y2="416.7" stroke="#333" stroke-width="0.9"/>
<line x1="447.85" y1="414.4" x2="447.85" y2="416.2" stroke="#333" stroke-width="0.9"/>
<line x1="465.40" y1="414.4" x2="465.40" y2="416.7" stroke="#333" stroke-width="0.9"/>
<line x1="482.95" y1="414.4" x2="482.95" y2="416.2" stroke="#333" stroke-width="0.9"/>
<line x1="500.50" y1="414.4" x2="500.50" y2="416.7" stroke="#333" stroke-width="0.9"/>
<line x1="518.05" y1="414.4" x2="518.05" y2="416.2" stroke="#333" stroke-width="0.9"/>
<text transform="matrix(0.90397 0 0 0.90397 388.42 424.41)" fill="#000" stroke="#000" stroke-width="0.4425">390</text>
<text transform="matrix(0.90791 0 0 0.90791 423.49 424.41)" fill="#000" stroke="#000" stroke-width="0.4406">395</text>
<text transform="matrix(0.90397 0 0 0.90397 458.73 424.41)" fill="#000" stroke="#000" stroke-width="0.4425">400</text>
<text transform="matrix(0.90397 0 0 0.90397 493.82 424.41)" fill="#000" stroke="#000" stroke-width="0.4425">405</text>
<text transform="matrix(0.90397 0 0 0.90397 528.93 424.41)" fill="#000" stroke="#000" stroke-width="0.4425">410</text>
<text transform="matrix(0.86616 0 0 0.90071 396.85 310.56)" fill="#000" stroke="#000" stroke-width="0.4528">PVAc/rGO-PDDA</text>
<text transform="matrix(0.95671 0 0 0.91055 396.82 321.21)" fill="#000" stroke="#000" stroke-width="0.4284">N1s</text>
<text transform="matrix(1.70569 0 0 1.31240 510.25 338.91)" fill="#000" stroke="#000" stroke-width="0.2651">(i)</text>
<text transform="matrix(0.91184 0 0 0.89812 490.88 321.17)" fill="#9b30f0" stroke="#9b30f0" stroke-width="0.4420">402.2</text>
<text transform="matrix(0.91461 0 0 0.97594 432.46 356.16)" fill="#12901a" stroke="#12901a" stroke-width="0.4232">399.5</text>
<text transform="matrix(0.97109 0 0 1.01590 425.73 374.26)" fill="#f03cf0" stroke="#f03cf0" stroke-width="0.4026">398.6</text>
<text transform="matrix(0.87833 0 0 0.88568 428.05 434.75)" fill="#000" stroke="#000" stroke-width="0.4535">Binding energy (eV)</text>
<text transform="matrix(0 -0.96744 0.80249 0 383.97 388.13)" fill="#000" stroke="#000" stroke-width="0.4520">Intensity (a.u)</text>
<line x1="481.8" y1="317.8" x2="491" y2="318.2" stroke="#9b30f0" stroke-width="0.8"/>
<line x1="451.9" y1="356.9" x2="460.6" y2="368.3" stroke="#12901a" stroke-width="0.8"/>
<line x1="447.3" y1="374.4" x2="456.1" y2="382.3" stroke="#f03cf0" stroke-width="0.8"/>
<rect x="6.8" y="6.6" width="537" height="432.2" rx="2" fill="none" stroke="#1212b0" stroke-width="1.9" stroke-dasharray="6.4 2.6"/>
</svg></body></html>
